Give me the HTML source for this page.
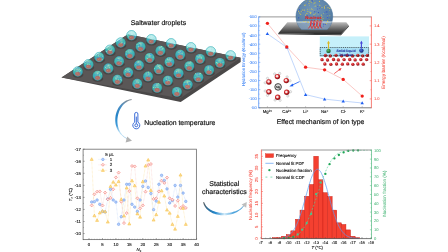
<!DOCTYPE html>
<html><head><meta charset="utf-8"><title>Graphical abstract</title>
<style>html,body{margin:0;padding:0;background:#fff}svg{display:block}</style></head>
<body>
<svg width="448" height="252" viewBox="0 0 448 252" font-family="Liberation Sans, sans-serif" text-rendering="geometricPrecision">
<defs>
<radialGradient id="drop" cx="48%" cy="22%" r="80%"><stop offset="0" stop-color="#a4f4e4"/><stop offset="0.4" stop-color="#3ce2d8"/><stop offset="1" stop-color="#22cad4"/></radialGradient>
<radialGradient id="blob" cx="50%" cy="50%" r="55%"><stop offset="0" stop-color="#b46c64"/><stop offset="0.6" stop-color="#a67070"/><stop offset="1" stop-color="#7a9aa0"/></radialGradient>
<linearGradient id="plate2" x1="0" y1="0" x2="0" y2="1"><stop offset="0" stop-color="#bcbcbc"/><stop offset="0.3" stop-color="#8c8c8c"/><stop offset="0.7" stop-color="#4e4e4e"/><stop offset="1" stop-color="#262626"/></linearGradient>
<radialGradient id="dome" cx="45%" cy="35%" r="70%"><stop offset="0" stop-color="#7096b8"/><stop offset="0.7" stop-color="#5b82a8"/><stop offset="1" stop-color="#486d94"/></radialGradient>
<radialGradient id="redball" cx="40%" cy="35%" r="70%"><stop offset="0" stop-color="#ee6a6a"/><stop offset="0.5" stop-color="#cc2428"/><stop offset="1" stop-color="#7a1015"/></radialGradient>
<radialGradient id="greenball" cx="40%" cy="35%" r="70%"><stop offset="0" stop-color="#5cc06a"/><stop offset="1" stop-color="#0f4a28"/></radialGradient>
<radialGradient id="blueball" cx="40%" cy="35%" r="70%"><stop offset="0" stop-color="#4a78e0"/><stop offset="1" stop-color="#0c1e6a"/></radialGradient>
<linearGradient id="arr1" gradientUnits="userSpaceOnUse" x1="125" y1="99" x2="125" y2="141"><stop offset="0" stop-color="#8f8f8f"/><stop offset="0.16" stop-color="#4a8ec4"/><stop offset="0.4" stop-color="#2484c8"/><stop offset="0.62" stop-color="#3f9ad8"/><stop offset="0.8" stop-color="#bfe2f6"/><stop offset="0.92" stop-color="#9fcdea"/><stop offset="1" stop-color="#b0b0b0"/></linearGradient>
<linearGradient id="arr2" gradientUnits="userSpaceOnUse" x1="203" y1="210" x2="246" y2="210"><stop offset="0" stop-color="#5a5a5a"/><stop offset="0.12" stop-color="#2a6f9f"/><stop offset="0.28" stop-color="#2488cc"/><stop offset="0.5" stop-color="#d4ecfa"/><stop offset="0.72" stop-color="#4aa2dc"/><stop offset="0.9" stop-color="#5aa6d8"/><stop offset="1" stop-color="#b8b8b8"/></linearGradient>
</defs>
<rect width="448" height="252" fill="#fff"/>
<polygon points="61.5,77.4 128,34.2 240.7,57.8 240.7,62 180.7,102.1" fill="#4a4848"/>
<polygon points="61.5,77.4 128,34.2 240.7,57.8 180.2,98.2" fill="#5a5757"/>
<clipPath id="platec"><polygon points="61.5,77.4 128,34.2 240.7,57.8 180.2,98.2"/></clipPath>
<g clip-path="url(#platec)">
<ellipse cx="131.70" cy="38.60" rx="5.4" ry="3.0" fill="#3a3434" opacity="0.55"/><circle cx="131.50" cy="35.40" r="5.1" fill="none" stroke="#4a3e3e" stroke-width="0.6" opacity="0.55"/>
<ellipse cx="151.52" cy="42.62" rx="5.4" ry="3.0" fill="#3a3434" opacity="0.55"/><circle cx="151.32" cy="39.42" r="5.1" fill="none" stroke="#4a3e3e" stroke-width="0.6" opacity="0.55"/>
<ellipse cx="171.34" cy="46.64" rx="5.4" ry="3.0" fill="#3a3434" opacity="0.55"/><circle cx="171.14" cy="43.44" r="5.1" fill="none" stroke="#4a3e3e" stroke-width="0.6" opacity="0.55"/>
<ellipse cx="191.16" cy="50.66" rx="5.4" ry="3.0" fill="#3a3434" opacity="0.55"/><circle cx="190.96" cy="47.46" r="5.1" fill="none" stroke="#4a3e3e" stroke-width="0.6" opacity="0.55"/>
<ellipse cx="210.98" cy="54.68" rx="5.4" ry="3.0" fill="#3a3434" opacity="0.55"/><circle cx="210.78" cy="51.48" r="5.1" fill="none" stroke="#4a3e3e" stroke-width="0.6" opacity="0.55"/>
<ellipse cx="230.80" cy="58.70" rx="5.4" ry="3.0" fill="#3a3434" opacity="0.55"/><circle cx="230.60" cy="55.50" r="5.1" fill="none" stroke="#4a3e3e" stroke-width="0.6" opacity="0.55"/>
<ellipse cx="120.96" cy="45.85" rx="5.4" ry="3.0" fill="#3a3434" opacity="0.55"/><circle cx="120.76" cy="42.65" r="5.1" fill="none" stroke="#4a3e3e" stroke-width="0.6" opacity="0.55"/>
<ellipse cx="140.78" cy="49.87" rx="5.4" ry="3.0" fill="#3a3434" opacity="0.55"/><circle cx="140.58" cy="46.67" r="5.1" fill="none" stroke="#4a3e3e" stroke-width="0.6" opacity="0.55"/>
<ellipse cx="160.60" cy="53.89" rx="5.4" ry="3.0" fill="#3a3434" opacity="0.55"/><circle cx="160.40" cy="50.69" r="5.1" fill="none" stroke="#4a3e3e" stroke-width="0.6" opacity="0.55"/>
<ellipse cx="180.42" cy="57.91" rx="5.4" ry="3.0" fill="#3a3434" opacity="0.55"/><circle cx="180.22" cy="54.71" r="5.1" fill="none" stroke="#4a3e3e" stroke-width="0.6" opacity="0.55"/>
<ellipse cx="200.24" cy="61.93" rx="5.4" ry="3.0" fill="#3a3434" opacity="0.55"/><circle cx="200.04" cy="58.73" r="5.1" fill="none" stroke="#4a3e3e" stroke-width="0.6" opacity="0.55"/>
<ellipse cx="220.06" cy="65.95" rx="5.4" ry="3.0" fill="#3a3434" opacity="0.55"/><circle cx="219.86" cy="62.75" r="5.1" fill="none" stroke="#4a3e3e" stroke-width="0.6" opacity="0.55"/>
<ellipse cx="110.22" cy="53.10" rx="5.4" ry="3.0" fill="#3a3434" opacity="0.55"/><circle cx="110.02" cy="49.90" r="5.1" fill="none" stroke="#4a3e3e" stroke-width="0.6" opacity="0.55"/>
<ellipse cx="130.04" cy="57.12" rx="5.4" ry="3.0" fill="#3a3434" opacity="0.55"/><circle cx="129.84" cy="53.92" r="5.1" fill="none" stroke="#4a3e3e" stroke-width="0.6" opacity="0.55"/>
<ellipse cx="149.86" cy="61.14" rx="5.4" ry="3.0" fill="#3a3434" opacity="0.55"/><circle cx="149.66" cy="57.94" r="5.1" fill="none" stroke="#4a3e3e" stroke-width="0.6" opacity="0.55"/>
<ellipse cx="169.68" cy="65.16" rx="5.4" ry="3.0" fill="#3a3434" opacity="0.55"/><circle cx="169.48" cy="61.96" r="5.1" fill="none" stroke="#4a3e3e" stroke-width="0.6" opacity="0.55"/>
<ellipse cx="189.50" cy="69.18" rx="5.4" ry="3.0" fill="#3a3434" opacity="0.55"/><circle cx="189.30" cy="65.98" r="5.1" fill="none" stroke="#4a3e3e" stroke-width="0.6" opacity="0.55"/>
<ellipse cx="209.32" cy="73.20" rx="5.4" ry="3.0" fill="#3a3434" opacity="0.55"/><circle cx="209.12" cy="70.00" r="5.1" fill="none" stroke="#4a3e3e" stroke-width="0.6" opacity="0.55"/>
<ellipse cx="99.48" cy="60.35" rx="5.4" ry="3.0" fill="#3a3434" opacity="0.55"/><circle cx="99.28" cy="57.15" r="5.1" fill="none" stroke="#4a3e3e" stroke-width="0.6" opacity="0.55"/>
<ellipse cx="119.30" cy="64.37" rx="5.4" ry="3.0" fill="#3a3434" opacity="0.55"/><circle cx="119.10" cy="61.17" r="5.1" fill="none" stroke="#4a3e3e" stroke-width="0.6" opacity="0.55"/>
<ellipse cx="139.12" cy="68.39" rx="5.4" ry="3.0" fill="#3a3434" opacity="0.55"/><circle cx="138.92" cy="65.19" r="5.1" fill="none" stroke="#4a3e3e" stroke-width="0.6" opacity="0.55"/>
<ellipse cx="158.94" cy="72.41" rx="5.4" ry="3.0" fill="#3a3434" opacity="0.55"/><circle cx="158.74" cy="69.21" r="5.1" fill="none" stroke="#4a3e3e" stroke-width="0.6" opacity="0.55"/>
<ellipse cx="178.76" cy="76.43" rx="5.4" ry="3.0" fill="#3a3434" opacity="0.55"/><circle cx="178.56" cy="73.23" r="5.1" fill="none" stroke="#4a3e3e" stroke-width="0.6" opacity="0.55"/>
<ellipse cx="198.58" cy="80.45" rx="5.4" ry="3.0" fill="#3a3434" opacity="0.55"/><circle cx="198.38" cy="77.25" r="5.1" fill="none" stroke="#4a3e3e" stroke-width="0.6" opacity="0.55"/>
<ellipse cx="88.74" cy="67.60" rx="5.4" ry="3.0" fill="#3a3434" opacity="0.55"/><circle cx="88.54" cy="64.40" r="5.1" fill="none" stroke="#4a3e3e" stroke-width="0.6" opacity="0.55"/>
<ellipse cx="108.56" cy="71.62" rx="5.4" ry="3.0" fill="#3a3434" opacity="0.55"/><circle cx="108.36" cy="68.42" r="5.1" fill="none" stroke="#4a3e3e" stroke-width="0.6" opacity="0.55"/>
<ellipse cx="128.38" cy="75.64" rx="5.4" ry="3.0" fill="#3a3434" opacity="0.55"/><circle cx="128.18" cy="72.44" r="5.1" fill="none" stroke="#4a3e3e" stroke-width="0.6" opacity="0.55"/>
<ellipse cx="148.20" cy="79.66" rx="5.4" ry="3.0" fill="#3a3434" opacity="0.55"/><circle cx="148.00" cy="76.46" r="5.1" fill="none" stroke="#4a3e3e" stroke-width="0.6" opacity="0.55"/>
<ellipse cx="168.02" cy="83.68" rx="5.4" ry="3.0" fill="#3a3434" opacity="0.55"/><circle cx="167.82" cy="80.48" r="5.1" fill="none" stroke="#4a3e3e" stroke-width="0.6" opacity="0.55"/>
<ellipse cx="187.84" cy="87.70" rx="5.4" ry="3.0" fill="#3a3434" opacity="0.55"/><circle cx="187.64" cy="84.50" r="5.1" fill="none" stroke="#4a3e3e" stroke-width="0.6" opacity="0.55"/>
<ellipse cx="78.00" cy="74.85" rx="5.4" ry="3.0" fill="#3a3434" opacity="0.55"/><circle cx="77.80" cy="71.65" r="5.1" fill="none" stroke="#4a3e3e" stroke-width="0.6" opacity="0.55"/>
<ellipse cx="97.82" cy="78.87" rx="5.4" ry="3.0" fill="#3a3434" opacity="0.55"/><circle cx="97.62" cy="75.67" r="5.1" fill="none" stroke="#4a3e3e" stroke-width="0.6" opacity="0.55"/>
<ellipse cx="117.64" cy="82.89" rx="5.4" ry="3.0" fill="#3a3434" opacity="0.55"/><circle cx="117.44" cy="79.69" r="5.1" fill="none" stroke="#4a3e3e" stroke-width="0.6" opacity="0.55"/>
<ellipse cx="137.46" cy="86.91" rx="5.4" ry="3.0" fill="#3a3434" opacity="0.55"/><circle cx="137.26" cy="83.71" r="5.1" fill="none" stroke="#4a3e3e" stroke-width="0.6" opacity="0.55"/>
<ellipse cx="157.28" cy="90.93" rx="5.4" ry="3.0" fill="#3a3434" opacity="0.55"/><circle cx="157.08" cy="87.73" r="5.1" fill="none" stroke="#4a3e3e" stroke-width="0.6" opacity="0.55"/>
<ellipse cx="177.10" cy="94.95" rx="5.4" ry="3.0" fill="#3a3434" opacity="0.55"/><circle cx="176.90" cy="91.75" r="5.1" fill="none" stroke="#4a3e3e" stroke-width="0.6" opacity="0.55"/>
</g>
<g transform="translate(131.50 35.40)"><circle r="4.85" fill="url(#drop)" fill-opacity="0.72" stroke="#2f9aa4" stroke-width="0.4" stroke-opacity="0.7"/><ellipse cx="0" cy="2.2" rx="3.0" ry="2.3" fill="url(#blob)"/><circle cx="2.0" cy="-3.4" r="0.55" fill="#b6eec0" opacity="0.75"/><circle cx="4.1" cy="0.4" r="0.55" fill="#b6eec0" opacity="0.75"/><circle cx="-3.0" cy="1.3" r="0.55" fill="#a8e6b0" opacity="0.75"/><circle cx="2.1" cy="-1.0" r="0.55" fill="#3c90dc" opacity="0.75"/><circle cx="-1.9" cy="-0.7" r="0.55" fill="#3c90dc" opacity="0.75"/><circle cx="-1.3" cy="-1.8" r="0.55" fill="#4a9ae0" opacity="0.75"/><circle cx="3.7" cy="-1.0" r="0.55" fill="#3c90dc" opacity="0.75"/><circle cx="2.6" cy="-2.4" r="0.55" fill="#b6eec0" opacity="0.75"/><circle cx="-2.0" cy="-1.4" r="0.55" fill="#a8e6b0" opacity="0.75"/><circle cx="-3.1" cy="-3.0" r="0.55" fill="#4a9ae0" opacity="0.75"/><circle cx="-3.8" cy="-0.1" r="0.55" fill="#a8e6b0" opacity="0.75"/><circle cx="3.7" cy="0.9" r="0.55" fill="#3c90dc" opacity="0.75"/><circle cx="3.1" cy="1.4" r="0.55" fill="#3c90dc" opacity="0.75"/><circle cx="-2.8" cy="-2.9" r="0.55" fill="#a8e6b0" opacity="0.75"/><circle cx="-0.8" cy="2.0" r="0.5" fill="#d89a58" opacity="0.7"/><circle cx="0.9" cy="2.7" r="0.45" fill="#d49060" opacity="0.65"/><circle cx="0.2" cy="1.5" r="0.4" fill="#d0a868" opacity="0.55"/></g>
<g transform="translate(151.32 39.42)"><circle r="4.85" fill="url(#drop)" fill-opacity="0.72" stroke="#2f9aa4" stroke-width="0.4" stroke-opacity="0.7"/><ellipse cx="0" cy="2.2" rx="3.0" ry="2.3" fill="url(#blob)"/><circle cx="2.5" cy="2.1" r="0.55" fill="#3c90dc" opacity="0.75"/><circle cx="-3.0" cy="0.3" r="0.55" fill="#3c90dc" opacity="0.75"/><circle cx="0.9" cy="-0.0" r="0.55" fill="#b6eec0" opacity="0.75"/><circle cx="-3.2" cy="0.8" r="0.55" fill="#3c90dc" opacity="0.75"/><circle cx="-0.6" cy="-2.3" r="0.55" fill="#3c90dc" opacity="0.75"/><circle cx="-1.1" cy="-1.3" r="0.55" fill="#a8e6b0" opacity="0.75"/><circle cx="1.1" cy="-0.4" r="0.55" fill="#4a9ae0" opacity="0.75"/><circle cx="3.9" cy="-0.4" r="0.55" fill="#3c90dc" opacity="0.75"/><circle cx="3.3" cy="-1.2" r="0.55" fill="#4a9ae0" opacity="0.75"/><circle cx="-1.8" cy="-0.6" r="0.55" fill="#3c90dc" opacity="0.75"/><circle cx="-1.6" cy="-3.6" r="0.55" fill="#a8e6b0" opacity="0.75"/><circle cx="2.1" cy="-1.6" r="0.55" fill="#4a9ae0" opacity="0.75"/><circle cx="1.2" cy="-1.2" r="0.55" fill="#a8e6b0" opacity="0.75"/><circle cx="-0.8" cy="2.0" r="0.5" fill="#d89a58" opacity="0.7"/><circle cx="0.9" cy="2.7" r="0.45" fill="#d49060" opacity="0.65"/><circle cx="0.2" cy="1.5" r="0.4" fill="#d0a868" opacity="0.55"/></g>
<g transform="translate(171.14 43.44)"><circle r="4.85" fill="url(#drop)" fill-opacity="0.72" stroke="#2f9aa4" stroke-width="0.4" stroke-opacity="0.7"/><ellipse cx="0" cy="2.2" rx="3.0" ry="2.3" fill="url(#blob)"/><circle cx="4.0" cy="-1.7" r="0.55" fill="#3c90dc" opacity="0.75"/><circle cx="1.8" cy="0.5" r="0.55" fill="#3c90dc" opacity="0.75"/><circle cx="-0.3" cy="-3.6" r="0.55" fill="#a8e6b0" opacity="0.75"/><circle cx="3.2" cy="0.1" r="0.55" fill="#b6eec0" opacity="0.75"/><circle cx="-2.4" cy="-3.3" r="0.55" fill="#4a9ae0" opacity="0.75"/><circle cx="2.7" cy="-1.4" r="0.55" fill="#b6eec0" opacity="0.75"/><circle cx="-4.0" cy="-0.6" r="0.55" fill="#3c90dc" opacity="0.75"/><circle cx="-2.7" cy="2.3" r="0.55" fill="#b6eec0" opacity="0.75"/><circle cx="-3.5" cy="1.1" r="0.55" fill="#3c90dc" opacity="0.75"/><circle cx="-1.7" cy="-1.2" r="0.55" fill="#3c90dc" opacity="0.75"/><circle cx="-2.2" cy="-0.7" r="0.55" fill="#4a9ae0" opacity="0.75"/><circle cx="-0.7" cy="-2.0" r="0.55" fill="#b6eec0" opacity="0.75"/><circle cx="1.0" cy="-3.7" r="0.55" fill="#a8e6b0" opacity="0.75"/><circle cx="0.5" cy="-2.6" r="0.55" fill="#b6eec0" opacity="0.75"/><circle cx="-0.8" cy="2.0" r="0.5" fill="#d89a58" opacity="0.7"/><circle cx="0.9" cy="2.7" r="0.45" fill="#d49060" opacity="0.65"/><circle cx="0.2" cy="1.5" r="0.4" fill="#d0a868" opacity="0.55"/></g>
<g transform="translate(190.96 47.46)"><circle r="4.85" fill="url(#drop)" fill-opacity="0.72" stroke="#2f9aa4" stroke-width="0.4" stroke-opacity="0.7"/><ellipse cx="0" cy="2.2" rx="3.0" ry="2.3" fill="url(#blob)"/><circle cx="-0.9" cy="-1.4" r="0.55" fill="#3c90dc" opacity="0.75"/><circle cx="2.1" cy="-1.9" r="0.55" fill="#4a9ae0" opacity="0.75"/><circle cx="-3.7" cy="0.1" r="0.55" fill="#b6eec0" opacity="0.75"/><circle cx="-3.1" cy="1.6" r="0.55" fill="#3c90dc" opacity="0.75"/><circle cx="-2.6" cy="-3.4" r="0.55" fill="#4a9ae0" opacity="0.75"/><circle cx="-0.8" cy="0.0" r="0.55" fill="#3c90dc" opacity="0.75"/><circle cx="3.4" cy="0.3" r="0.55" fill="#a8e6b0" opacity="0.75"/><circle cx="-3.3" cy="-0.1" r="0.55" fill="#b6eec0" opacity="0.75"/><circle cx="-0.9" cy="-4.3" r="0.55" fill="#b6eec0" opacity="0.75"/><circle cx="-0.4" cy="-3.3" r="0.55" fill="#3c90dc" opacity="0.75"/><circle cx="1.0" cy="-1.5" r="0.55" fill="#3c90dc" opacity="0.75"/><circle cx="-1.9" cy="-0.5" r="0.55" fill="#b6eec0" opacity="0.75"/><circle cx="-0.8" cy="2.0" r="0.5" fill="#d89a58" opacity="0.7"/><circle cx="0.9" cy="2.7" r="0.45" fill="#d49060" opacity="0.65"/><circle cx="0.2" cy="1.5" r="0.4" fill="#d0a868" opacity="0.55"/></g>
<g transform="translate(210.78 51.48)"><circle r="4.85" fill="url(#drop)" fill-opacity="0.72" stroke="#2f9aa4" stroke-width="0.4" stroke-opacity="0.7"/><ellipse cx="0" cy="2.2" rx="3.0" ry="2.3" fill="url(#blob)"/><circle cx="-1.2" cy="0.3" r="0.55" fill="#3c90dc" opacity="0.75"/><circle cx="2.8" cy="-0.3" r="0.55" fill="#a8e6b0" opacity="0.75"/><circle cx="1.1" cy="-3.8" r="0.55" fill="#3c90dc" opacity="0.75"/><circle cx="-2.2" cy="-0.9" r="0.55" fill="#3c90dc" opacity="0.75"/><circle cx="0.9" cy="-2.2" r="0.55" fill="#3c90dc" opacity="0.75"/><circle cx="1.7" cy="-3.7" r="0.55" fill="#a8e6b0" opacity="0.75"/><circle cx="-2.4" cy="-2.9" r="0.55" fill="#a8e6b0" opacity="0.75"/><circle cx="2.6" cy="0.9" r="0.55" fill="#b6eec0" opacity="0.75"/><circle cx="-1.6" cy="-0.7" r="0.55" fill="#b6eec0" opacity="0.75"/><circle cx="1.7" cy="-4.2" r="0.55" fill="#a8e6b0" opacity="0.75"/><circle cx="2.0" cy="-0.5" r="0.55" fill="#a8e6b0" opacity="0.75"/><circle cx="1.5" cy="-2.7" r="0.55" fill="#b6eec0" opacity="0.75"/><circle cx="-1.7" cy="0.3" r="0.55" fill="#b6eec0" opacity="0.75"/><circle cx="-0.8" cy="2.0" r="0.5" fill="#d89a58" opacity="0.7"/><circle cx="0.9" cy="2.7" r="0.45" fill="#d49060" opacity="0.65"/><circle cx="0.2" cy="1.5" r="0.4" fill="#d0a868" opacity="0.55"/></g>
<g transform="translate(230.60 55.50)"><circle r="4.85" fill="url(#drop)" fill-opacity="0.72" stroke="#2f9aa4" stroke-width="0.4" stroke-opacity="0.7"/><ellipse cx="0" cy="2.2" rx="3.0" ry="2.3" fill="url(#blob)"/><circle cx="-2.5" cy="-2.9" r="0.55" fill="#4a9ae0" opacity="0.75"/><circle cx="2.5" cy="-0.2" r="0.55" fill="#3c90dc" opacity="0.75"/><circle cx="-2.4" cy="-3.6" r="0.55" fill="#3c90dc" opacity="0.75"/><circle cx="-2.7" cy="2.0" r="0.55" fill="#b6eec0" opacity="0.75"/><circle cx="-2.8" cy="-1.3" r="0.55" fill="#3c90dc" opacity="0.75"/><circle cx="-0.3" cy="-2.8" r="0.55" fill="#3c90dc" opacity="0.75"/><circle cx="3.1" cy="-2.3" r="0.55" fill="#3c90dc" opacity="0.75"/><circle cx="0.1" cy="-1.8" r="0.55" fill="#4a9ae0" opacity="0.75"/><circle cx="-1.0" cy="-1.5" r="0.55" fill="#3c90dc" opacity="0.75"/><circle cx="1.0" cy="-0.8" r="0.55" fill="#3c90dc" opacity="0.75"/><circle cx="1.5" cy="-1.0" r="0.55" fill="#3c90dc" opacity="0.75"/><circle cx="-3.1" cy="-1.3" r="0.55" fill="#3c90dc" opacity="0.75"/><circle cx="-0.8" cy="0.1" r="0.55" fill="#b6eec0" opacity="0.75"/><circle cx="-0.8" cy="2.0" r="0.5" fill="#d89a58" opacity="0.7"/><circle cx="0.9" cy="2.7" r="0.45" fill="#d49060" opacity="0.65"/><circle cx="0.2" cy="1.5" r="0.4" fill="#d0a868" opacity="0.55"/></g>
<g transform="translate(120.76 42.65)"><circle r="4.85" fill="url(#drop)" fill-opacity="0.72" stroke="#2f9aa4" stroke-width="0.4" stroke-opacity="0.7"/><ellipse cx="0" cy="2.2" rx="3.0" ry="2.3" fill="url(#blob)"/><circle cx="-0.7" cy="-1.6" r="0.55" fill="#4a9ae0" opacity="0.75"/><circle cx="2.4" cy="0.9" r="0.55" fill="#4a9ae0" opacity="0.75"/><circle cx="0.3" cy="0.6" r="0.55" fill="#b6eec0" opacity="0.75"/><circle cx="1.2" cy="-0.1" r="0.55" fill="#b6eec0" opacity="0.75"/><circle cx="2.7" cy="0.4" r="0.55" fill="#3c90dc" opacity="0.75"/><circle cx="-2.0" cy="-2.6" r="0.55" fill="#3c90dc" opacity="0.75"/><circle cx="-2.0" cy="-1.6" r="0.55" fill="#3c90dc" opacity="0.75"/><circle cx="3.7" cy="0.5" r="0.55" fill="#a8e6b0" opacity="0.75"/><circle cx="-2.4" cy="0.7" r="0.55" fill="#4a9ae0" opacity="0.75"/><circle cx="-1.4" cy="-2.2" r="0.55" fill="#4a9ae0" opacity="0.75"/><circle cx="-0.7" cy="-3.2" r="0.55" fill="#4a9ae0" opacity="0.75"/><circle cx="-1.8" cy="0.3" r="0.55" fill="#4a9ae0" opacity="0.75"/><circle cx="-0.8" cy="2.0" r="0.5" fill="#d89a58" opacity="0.7"/><circle cx="0.9" cy="2.7" r="0.45" fill="#d49060" opacity="0.65"/><circle cx="0.2" cy="1.5" r="0.4" fill="#d0a868" opacity="0.55"/></g>
<g transform="translate(140.58 46.67)"><circle r="4.85" fill="url(#drop)" fill-opacity="0.72" stroke="#2f9aa4" stroke-width="0.4" stroke-opacity="0.7"/><ellipse cx="0" cy="2.2" rx="3.0" ry="2.3" fill="url(#blob)"/><circle cx="1.6" cy="0.3" r="0.55" fill="#4a9ae0" opacity="0.75"/><circle cx="-2.4" cy="0.0" r="0.55" fill="#b6eec0" opacity="0.75"/><circle cx="-3.6" cy="-2.3" r="0.55" fill="#b6eec0" opacity="0.75"/><circle cx="1.5" cy="0.3" r="0.55" fill="#3c90dc" opacity="0.75"/><circle cx="-0.8" cy="-3.1" r="0.55" fill="#b6eec0" opacity="0.75"/><circle cx="1.8" cy="-1.8" r="0.55" fill="#3c90dc" opacity="0.75"/><circle cx="-0.7" cy="-1.7" r="0.55" fill="#3c90dc" opacity="0.75"/><circle cx="-2.8" cy="1.7" r="0.55" fill="#3c90dc" opacity="0.75"/><circle cx="-1.1" cy="-2.3" r="0.55" fill="#3c90dc" opacity="0.75"/><circle cx="-3.1" cy="-0.6" r="0.55" fill="#3c90dc" opacity="0.75"/><circle cx="-1.3" cy="-1.3" r="0.55" fill="#3c90dc" opacity="0.75"/><circle cx="-1.1" cy="-0.9" r="0.55" fill="#3c90dc" opacity="0.75"/><circle cx="-0.8" cy="2.0" r="0.5" fill="#d89a58" opacity="0.7"/><circle cx="0.9" cy="2.7" r="0.45" fill="#d49060" opacity="0.65"/><circle cx="0.2" cy="1.5" r="0.4" fill="#d0a868" opacity="0.55"/></g>
<g transform="translate(160.40 50.69)"><circle r="4.85" fill="url(#drop)" fill-opacity="0.72" stroke="#2f9aa4" stroke-width="0.4" stroke-opacity="0.7"/><ellipse cx="0" cy="2.2" rx="3.0" ry="2.3" fill="url(#blob)"/><circle cx="-2.2" cy="-0.1" r="0.55" fill="#3c90dc" opacity="0.75"/><circle cx="-1.7" cy="-1.8" r="0.55" fill="#4a9ae0" opacity="0.75"/><circle cx="-1.1" cy="-3.7" r="0.55" fill="#3c90dc" opacity="0.75"/><circle cx="-0.7" cy="-2.9" r="0.55" fill="#b6eec0" opacity="0.75"/><circle cx="2.6" cy="-1.9" r="0.55" fill="#b6eec0" opacity="0.75"/><circle cx="1.0" cy="-4.2" r="0.55" fill="#a8e6b0" opacity="0.75"/><circle cx="1.0" cy="-4.2" r="0.55" fill="#a8e6b0" opacity="0.75"/><circle cx="2.0" cy="-1.8" r="0.55" fill="#a8e6b0" opacity="0.75"/><circle cx="0.6" cy="-2.1" r="0.55" fill="#3c90dc" opacity="0.75"/><circle cx="0.9" cy="-1.4" r="0.55" fill="#b6eec0" opacity="0.75"/><circle cx="0.8" cy="-1.7" r="0.55" fill="#3c90dc" opacity="0.75"/><circle cx="-0.8" cy="2.0" r="0.5" fill="#d89a58" opacity="0.7"/><circle cx="0.9" cy="2.7" r="0.45" fill="#d49060" opacity="0.65"/><circle cx="0.2" cy="1.5" r="0.4" fill="#d0a868" opacity="0.55"/></g>
<g transform="translate(180.22 54.71)"><circle r="4.85" fill="url(#drop)" fill-opacity="0.72" stroke="#2f9aa4" stroke-width="0.4" stroke-opacity="0.7"/><ellipse cx="0" cy="2.2" rx="3.0" ry="2.3" fill="url(#blob)"/><circle cx="-2.2" cy="-1.6" r="0.55" fill="#4a9ae0" opacity="0.75"/><circle cx="2.5" cy="-0.4" r="0.55" fill="#b6eec0" opacity="0.75"/><circle cx="1.4" cy="-3.3" r="0.55" fill="#3c90dc" opacity="0.75"/><circle cx="2.6" cy="-0.1" r="0.55" fill="#3c90dc" opacity="0.75"/><circle cx="1.1" cy="-0.6" r="0.55" fill="#3c90dc" opacity="0.75"/><circle cx="-1.8" cy="-1.9" r="0.55" fill="#a8e6b0" opacity="0.75"/><circle cx="0.9" cy="-2.2" r="0.55" fill="#3c90dc" opacity="0.75"/><circle cx="-1.2" cy="-3.4" r="0.55" fill="#3c90dc" opacity="0.75"/><circle cx="-3.7" cy="0.4" r="0.55" fill="#3c90dc" opacity="0.75"/><circle cx="3.0" cy="-1.1" r="0.55" fill="#3c90dc" opacity="0.75"/><circle cx="-1.5" cy="-1.4" r="0.55" fill="#3c90dc" opacity="0.75"/><circle cx="1.9" cy="-1.3" r="0.55" fill="#a8e6b0" opacity="0.75"/><circle cx="0.2" cy="-2.3" r="0.55" fill="#4a9ae0" opacity="0.75"/><circle cx="-2.4" cy="0.1" r="0.55" fill="#4a9ae0" opacity="0.75"/><circle cx="-0.8" cy="2.0" r="0.5" fill="#d89a58" opacity="0.7"/><circle cx="0.9" cy="2.7" r="0.45" fill="#d49060" opacity="0.65"/><circle cx="0.2" cy="1.5" r="0.4" fill="#d0a868" opacity="0.55"/></g>
<g transform="translate(200.04 58.73)"><circle r="4.85" fill="url(#drop)" fill-opacity="0.72" stroke="#2f9aa4" stroke-width="0.4" stroke-opacity="0.7"/><ellipse cx="0" cy="2.2" rx="3.0" ry="2.3" fill="url(#blob)"/><circle cx="-2.7" cy="0.2" r="0.55" fill="#b6eec0" opacity="0.75"/><circle cx="-3.6" cy="0.5" r="0.55" fill="#3c90dc" opacity="0.75"/><circle cx="-2.5" cy="-3.1" r="0.55" fill="#3c90dc" opacity="0.75"/><circle cx="-1.4" cy="-0.1" r="0.55" fill="#4a9ae0" opacity="0.75"/><circle cx="1.2" cy="-3.5" r="0.55" fill="#3c90dc" opacity="0.75"/><circle cx="-1.9" cy="-1.8" r="0.55" fill="#b6eec0" opacity="0.75"/><circle cx="-1.7" cy="-3.0" r="0.55" fill="#3c90dc" opacity="0.75"/><circle cx="-2.7" cy="-3.1" r="0.55" fill="#3c90dc" opacity="0.75"/><circle cx="1.5" cy="-0.0" r="0.55" fill="#3c90dc" opacity="0.75"/><circle cx="-2.9" cy="-2.6" r="0.55" fill="#a8e6b0" opacity="0.75"/><circle cx="-3.5" cy="0.7" r="0.55" fill="#4a9ae0" opacity="0.75"/><circle cx="1.3" cy="-0.6" r="0.55" fill="#a8e6b0" opacity="0.75"/><circle cx="1.2" cy="-1.1" r="0.55" fill="#a8e6b0" opacity="0.75"/><circle cx="-0.8" cy="2.0" r="0.5" fill="#d89a58" opacity="0.7"/><circle cx="0.9" cy="2.7" r="0.45" fill="#d49060" opacity="0.65"/><circle cx="0.2" cy="1.5" r="0.4" fill="#d0a868" opacity="0.55"/></g>
<g transform="translate(219.86 62.75)"><circle r="4.85" fill="url(#drop)" fill-opacity="0.72" stroke="#2f9aa4" stroke-width="0.4" stroke-opacity="0.7"/><ellipse cx="0" cy="2.2" rx="3.0" ry="2.3" fill="url(#blob)"/><circle cx="-3.1" cy="-0.1" r="0.55" fill="#a8e6b0" opacity="0.75"/><circle cx="0.6" cy="0.2" r="0.55" fill="#a8e6b0" opacity="0.75"/><circle cx="-3.1" cy="-0.3" r="0.55" fill="#b6eec0" opacity="0.75"/><circle cx="-1.1" cy="-3.2" r="0.55" fill="#4a9ae0" opacity="0.75"/><circle cx="3.1" cy="-0.6" r="0.55" fill="#b6eec0" opacity="0.75"/><circle cx="1.4" cy="-3.4" r="0.55" fill="#3c90dc" opacity="0.75"/><circle cx="1.2" cy="-0.5" r="0.55" fill="#4a9ae0" opacity="0.75"/><circle cx="-2.2" cy="0.5" r="0.55" fill="#b6eec0" opacity="0.75"/><circle cx="2.7" cy="-1.1" r="0.55" fill="#4a9ae0" opacity="0.75"/><circle cx="-3.9" cy="-2.0" r="0.55" fill="#3c90dc" opacity="0.75"/><circle cx="-2.5" cy="-1.5" r="0.55" fill="#3c90dc" opacity="0.75"/><circle cx="-0.8" cy="2.0" r="0.5" fill="#d89a58" opacity="0.7"/><circle cx="0.9" cy="2.7" r="0.45" fill="#d49060" opacity="0.65"/><circle cx="0.2" cy="1.5" r="0.4" fill="#d0a868" opacity="0.55"/></g>
<g transform="translate(110.02 49.90)"><circle r="4.85" fill="url(#drop)" fill-opacity="0.72" stroke="#2f9aa4" stroke-width="0.4" stroke-opacity="0.7"/><ellipse cx="0" cy="2.2" rx="3.0" ry="2.3" fill="url(#blob)"/><circle cx="2.6" cy="1.4" r="0.55" fill="#4a9ae0" opacity="0.75"/><circle cx="1.8" cy="-1.3" r="0.55" fill="#a8e6b0" opacity="0.75"/><circle cx="-0.3" cy="0.5" r="0.55" fill="#b6eec0" opacity="0.75"/><circle cx="-2.8" cy="1.4" r="0.55" fill="#3c90dc" opacity="0.75"/><circle cx="-1.5" cy="-0.7" r="0.55" fill="#a8e6b0" opacity="0.75"/><circle cx="1.5" cy="0.2" r="0.55" fill="#b6eec0" opacity="0.75"/><circle cx="-3.5" cy="1.7" r="0.55" fill="#b6eec0" opacity="0.75"/><circle cx="1.0" cy="-1.4" r="0.55" fill="#3c90dc" opacity="0.75"/><circle cx="-2.7" cy="-2.0" r="0.55" fill="#a8e6b0" opacity="0.75"/><circle cx="0.5" cy="0.5" r="0.55" fill="#b6eec0" opacity="0.75"/><circle cx="-0.8" cy="2.0" r="0.5" fill="#d89a58" opacity="0.7"/><circle cx="0.9" cy="2.7" r="0.45" fill="#d49060" opacity="0.65"/><circle cx="0.2" cy="1.5" r="0.4" fill="#d0a868" opacity="0.55"/></g>
<g transform="translate(129.84 53.92)"><circle r="4.85" fill="url(#drop)" fill-opacity="0.72" stroke="#2f9aa4" stroke-width="0.4" stroke-opacity="0.7"/><ellipse cx="0" cy="2.2" rx="3.0" ry="2.3" fill="url(#blob)"/><circle cx="1.0" cy="-0.8" r="0.55" fill="#3c90dc" opacity="0.75"/><circle cx="3.9" cy="-0.2" r="0.55" fill="#3c90dc" opacity="0.75"/><circle cx="2.7" cy="-3.8" r="0.55" fill="#3c90dc" opacity="0.75"/><circle cx="-0.3" cy="-2.8" r="0.55" fill="#4a9ae0" opacity="0.75"/><circle cx="-2.3" cy="0.0" r="0.55" fill="#3c90dc" opacity="0.75"/><circle cx="-3.5" cy="0.2" r="0.55" fill="#b6eec0" opacity="0.75"/><circle cx="-3.7" cy="-2.2" r="0.55" fill="#b6eec0" opacity="0.75"/><circle cx="-3.2" cy="1.5" r="0.55" fill="#3c90dc" opacity="0.75"/><circle cx="-4.1" cy="-0.4" r="0.55" fill="#3c90dc" opacity="0.75"/><circle cx="-0.8" cy="2.0" r="0.5" fill="#d89a58" opacity="0.7"/><circle cx="0.9" cy="2.7" r="0.45" fill="#d49060" opacity="0.65"/><circle cx="0.2" cy="1.5" r="0.4" fill="#d0a868" opacity="0.55"/></g>
<g transform="translate(149.66 57.94)"><circle r="4.85" fill="url(#drop)" fill-opacity="0.72" stroke="#2f9aa4" stroke-width="0.4" stroke-opacity="0.7"/><ellipse cx="0" cy="2.2" rx="3.0" ry="2.3" fill="url(#blob)"/><circle cx="-2.1" cy="0.6" r="0.55" fill="#b6eec0" opacity="0.75"/><circle cx="2.0" cy="-3.1" r="0.55" fill="#3c90dc" opacity="0.75"/><circle cx="-0.7" cy="-1.3" r="0.55" fill="#a8e6b0" opacity="0.75"/><circle cx="1.3" cy="-3.4" r="0.55" fill="#4a9ae0" opacity="0.75"/><circle cx="1.8" cy="-1.1" r="0.55" fill="#3c90dc" opacity="0.75"/><circle cx="1.1" cy="-3.4" r="0.55" fill="#3c90dc" opacity="0.75"/><circle cx="-2.9" cy="0.0" r="0.55" fill="#a8e6b0" opacity="0.75"/><circle cx="3.6" cy="-0.9" r="0.55" fill="#a8e6b0" opacity="0.75"/><circle cx="-2.6" cy="-3.7" r="0.55" fill="#a8e6b0" opacity="0.75"/><circle cx="-1.7" cy="-1.5" r="0.55" fill="#3c90dc" opacity="0.75"/><circle cx="1.8" cy="-3.6" r="0.55" fill="#4a9ae0" opacity="0.75"/><circle cx="-0.8" cy="2.0" r="0.5" fill="#d89a58" opacity="0.7"/><circle cx="0.9" cy="2.7" r="0.45" fill="#d49060" opacity="0.65"/><circle cx="0.2" cy="1.5" r="0.4" fill="#d0a868" opacity="0.55"/></g>
<g transform="translate(169.48 61.96)"><circle r="4.85" fill="url(#drop)" fill-opacity="0.72" stroke="#2f9aa4" stroke-width="0.4" stroke-opacity="0.7"/><ellipse cx="0" cy="2.2" rx="3.0" ry="2.3" fill="url(#blob)"/><circle cx="-3.6" cy="-1.1" r="0.55" fill="#a8e6b0" opacity="0.75"/><circle cx="-0.9" cy="-3.5" r="0.55" fill="#3c90dc" opacity="0.75"/><circle cx="1.6" cy="-1.5" r="0.55" fill="#b6eec0" opacity="0.75"/><circle cx="2.2" cy="-1.3" r="0.55" fill="#4a9ae0" opacity="0.75"/><circle cx="3.4" cy="0.7" r="0.55" fill="#3c90dc" opacity="0.75"/><circle cx="-3.9" cy="-2.0" r="0.55" fill="#3c90dc" opacity="0.75"/><circle cx="-0.7" cy="0.6" r="0.55" fill="#3c90dc" opacity="0.75"/><circle cx="-0.5" cy="0.5" r="0.55" fill="#b6eec0" opacity="0.75"/><circle cx="-1.9" cy="-2.8" r="0.55" fill="#b6eec0" opacity="0.75"/><circle cx="1.6" cy="-4.1" r="0.55" fill="#3c90dc" opacity="0.75"/><circle cx="-2.6" cy="0.5" r="0.55" fill="#a8e6b0" opacity="0.75"/><circle cx="2.4" cy="0.2" r="0.55" fill="#4a9ae0" opacity="0.75"/><circle cx="-0.8" cy="2.0" r="0.5" fill="#d89a58" opacity="0.7"/><circle cx="0.9" cy="2.7" r="0.45" fill="#d49060" opacity="0.65"/><circle cx="0.2" cy="1.5" r="0.4" fill="#d0a868" opacity="0.55"/></g>
<g transform="translate(189.30 65.98)"><circle r="4.85" fill="url(#drop)" fill-opacity="0.72" stroke="#2f9aa4" stroke-width="0.4" stroke-opacity="0.7"/><ellipse cx="0" cy="2.2" rx="3.0" ry="2.3" fill="url(#blob)"/><circle cx="-2.6" cy="-0.4" r="0.55" fill="#b6eec0" opacity="0.75"/><circle cx="0.1" cy="-2.1" r="0.55" fill="#3c90dc" opacity="0.75"/><circle cx="1.5" cy="-4.1" r="0.55" fill="#b6eec0" opacity="0.75"/><circle cx="4.2" cy="-0.4" r="0.55" fill="#3c90dc" opacity="0.75"/><circle cx="0.3" cy="-2.8" r="0.55" fill="#a8e6b0" opacity="0.75"/><circle cx="-2.3" cy="-2.0" r="0.55" fill="#a8e6b0" opacity="0.75"/><circle cx="-1.6" cy="-1.7" r="0.55" fill="#3c90dc" opacity="0.75"/><circle cx="-0.8" cy="2.0" r="0.5" fill="#d89a58" opacity="0.7"/><circle cx="0.9" cy="2.7" r="0.45" fill="#d49060" opacity="0.65"/><circle cx="0.2" cy="1.5" r="0.4" fill="#d0a868" opacity="0.55"/></g>
<g transform="translate(209.12 70.00)"><circle r="4.85" fill="url(#drop)" fill-opacity="0.72" stroke="#2f9aa4" stroke-width="0.4" stroke-opacity="0.7"/><ellipse cx="0" cy="2.2" rx="3.0" ry="2.3" fill="url(#blob)"/><circle cx="-1.6" cy="-3.7" r="0.55" fill="#4a9ae0" opacity="0.75"/><circle cx="1.2" cy="0.5" r="0.55" fill="#a8e6b0" opacity="0.75"/><circle cx="2.0" cy="-0.6" r="0.55" fill="#3c90dc" opacity="0.75"/><circle cx="-1.1" cy="-1.3" r="0.55" fill="#b6eec0" opacity="0.75"/><circle cx="0.4" cy="0.5" r="0.55" fill="#3c90dc" opacity="0.75"/><circle cx="0.8" cy="-1.5" r="0.55" fill="#3c90dc" opacity="0.75"/><circle cx="-1.1" cy="0.0" r="0.55" fill="#b6eec0" opacity="0.75"/><circle cx="0.1" cy="-2.8" r="0.55" fill="#a8e6b0" opacity="0.75"/><circle cx="-2.4" cy="-1.7" r="0.55" fill="#3c90dc" opacity="0.75"/><circle cx="1.1" cy="-4.4" r="0.55" fill="#3c90dc" opacity="0.75"/><circle cx="0.4" cy="-3.3" r="0.55" fill="#3c90dc" opacity="0.75"/><circle cx="0.7" cy="-2.7" r="0.55" fill="#3c90dc" opacity="0.75"/><circle cx="-0.8" cy="2.0" r="0.5" fill="#d89a58" opacity="0.7"/><circle cx="0.9" cy="2.7" r="0.45" fill="#d49060" opacity="0.65"/><circle cx="0.2" cy="1.5" r="0.4" fill="#d0a868" opacity="0.55"/></g>
<g transform="translate(99.28 57.15)"><circle r="4.85" fill="url(#drop)" fill-opacity="0.72" stroke="#2f9aa4" stroke-width="0.4" stroke-opacity="0.7"/><ellipse cx="0" cy="2.2" rx="3.0" ry="2.3" fill="url(#blob)"/><circle cx="-1.7" cy="-2.4" r="0.55" fill="#3c90dc" opacity="0.75"/><circle cx="2.6" cy="-0.8" r="0.55" fill="#4a9ae0" opacity="0.75"/><circle cx="0.2" cy="-1.6" r="0.55" fill="#4a9ae0" opacity="0.75"/><circle cx="-1.3" cy="0.0" r="0.55" fill="#3c90dc" opacity="0.75"/><circle cx="2.9" cy="-2.1" r="0.55" fill="#b6eec0" opacity="0.75"/><circle cx="3.4" cy="-0.7" r="0.55" fill="#b6eec0" opacity="0.75"/><circle cx="-0.8" cy="-1.3" r="0.55" fill="#a8e6b0" opacity="0.75"/><circle cx="-3.2" cy="-1.4" r="0.55" fill="#a8e6b0" opacity="0.75"/><circle cx="3.4" cy="-0.1" r="0.55" fill="#3c90dc" opacity="0.75"/><circle cx="2.9" cy="2.1" r="0.55" fill="#b6eec0" opacity="0.75"/><circle cx="-1.2" cy="0.2" r="0.55" fill="#3c90dc" opacity="0.75"/><circle cx="-3.6" cy="0.1" r="0.55" fill="#3c90dc" opacity="0.75"/><circle cx="0.3" cy="-2.2" r="0.55" fill="#4a9ae0" opacity="0.75"/><circle cx="-0.8" cy="2.0" r="0.5" fill="#d89a58" opacity="0.7"/><circle cx="0.9" cy="2.7" r="0.45" fill="#d49060" opacity="0.65"/><circle cx="0.2" cy="1.5" r="0.4" fill="#d0a868" opacity="0.55"/></g>
<g transform="translate(119.10 61.17)"><circle r="4.85" fill="url(#drop)" fill-opacity="0.72" stroke="#2f9aa4" stroke-width="0.4" stroke-opacity="0.7"/><ellipse cx="0" cy="2.2" rx="3.0" ry="2.3" fill="url(#blob)"/><circle cx="1.4" cy="-1.0" r="0.55" fill="#3c90dc" opacity="0.75"/><circle cx="-1.9" cy="-2.1" r="0.55" fill="#3c90dc" opacity="0.75"/><circle cx="-0.3" cy="-4.3" r="0.55" fill="#3c90dc" opacity="0.75"/><circle cx="3.0" cy="-1.9" r="0.55" fill="#b6eec0" opacity="0.75"/><circle cx="-0.3" cy="-1.7" r="0.55" fill="#3c90dc" opacity="0.75"/><circle cx="-1.7" cy="-1.6" r="0.55" fill="#3c90dc" opacity="0.75"/><circle cx="0.6" cy="0.6" r="0.55" fill="#4a9ae0" opacity="0.75"/><circle cx="3.3" cy="-1.9" r="0.55" fill="#4a9ae0" opacity="0.75"/><circle cx="1.9" cy="0.1" r="0.55" fill="#a8e6b0" opacity="0.75"/><circle cx="3.0" cy="-1.4" r="0.55" fill="#3c90dc" opacity="0.75"/><circle cx="-0.9" cy="-2.8" r="0.55" fill="#a8e6b0" opacity="0.75"/><circle cx="-0.8" cy="2.0" r="0.5" fill="#d89a58" opacity="0.7"/><circle cx="0.9" cy="2.7" r="0.45" fill="#d49060" opacity="0.65"/><circle cx="0.2" cy="1.5" r="0.4" fill="#d0a868" opacity="0.55"/></g>
<g transform="translate(138.92 65.19)"><circle r="4.85" fill="url(#drop)" fill-opacity="0.72" stroke="#2f9aa4" stroke-width="0.4" stroke-opacity="0.7"/><ellipse cx="0" cy="2.2" rx="3.0" ry="2.3" fill="url(#blob)"/><circle cx="3.7" cy="-2.4" r="0.55" fill="#3c90dc" opacity="0.75"/><circle cx="2.0" cy="-0.4" r="0.55" fill="#b6eec0" opacity="0.75"/><circle cx="-1.4" cy="-0.9" r="0.55" fill="#3c90dc" opacity="0.75"/><circle cx="-0.1" cy="0.4" r="0.55" fill="#4a9ae0" opacity="0.75"/><circle cx="-1.0" cy="-0.3" r="0.55" fill="#3c90dc" opacity="0.75"/><circle cx="2.6" cy="-0.9" r="0.55" fill="#3c90dc" opacity="0.75"/><circle cx="-3.4" cy="-0.9" r="0.55" fill="#a8e6b0" opacity="0.75"/><circle cx="0.2" cy="-2.2" r="0.55" fill="#3c90dc" opacity="0.75"/><circle cx="-2.7" cy="-2.2" r="0.55" fill="#4a9ae0" opacity="0.75"/><circle cx="-3.5" cy="-2.1" r="0.55" fill="#4a9ae0" opacity="0.75"/><circle cx="-3.3" cy="-2.2" r="0.55" fill="#3c90dc" opacity="0.75"/><circle cx="-0.6" cy="-3.3" r="0.55" fill="#b6eec0" opacity="0.75"/><circle cx="-0.7" cy="-1.9" r="0.55" fill="#3c90dc" opacity="0.75"/><circle cx="-3.2" cy="-1.2" r="0.55" fill="#4a9ae0" opacity="0.75"/><circle cx="-0.8" cy="2.0" r="0.5" fill="#d89a58" opacity="0.7"/><circle cx="0.9" cy="2.7" r="0.45" fill="#d49060" opacity="0.65"/><circle cx="0.2" cy="1.5" r="0.4" fill="#d0a868" opacity="0.55"/></g>
<g transform="translate(158.74 69.21)"><circle r="4.85" fill="url(#drop)" fill-opacity="0.72" stroke="#2f9aa4" stroke-width="0.4" stroke-opacity="0.7"/><ellipse cx="0" cy="2.2" rx="3.0" ry="2.3" fill="url(#blob)"/><circle cx="-0.9" cy="-4.1" r="0.55" fill="#3c90dc" opacity="0.75"/><circle cx="-1.2" cy="-4.5" r="0.55" fill="#a8e6b0" opacity="0.75"/><circle cx="-0.6" cy="-3.9" r="0.55" fill="#b6eec0" opacity="0.75"/><circle cx="-3.3" cy="0.0" r="0.55" fill="#3c90dc" opacity="0.75"/><circle cx="1.5" cy="-0.3" r="0.55" fill="#b6eec0" opacity="0.75"/><circle cx="-0.2" cy="-2.9" r="0.55" fill="#a8e6b0" opacity="0.75"/><circle cx="-4.3" cy="-0.6" r="0.55" fill="#a8e6b0" opacity="0.75"/><circle cx="0.8" cy="-1.8" r="0.55" fill="#a8e6b0" opacity="0.75"/><circle cx="1.2" cy="-0.9" r="0.55" fill="#a8e6b0" opacity="0.75"/><circle cx="-0.6" cy="-1.5" r="0.55" fill="#3c90dc" opacity="0.75"/><circle cx="1.2" cy="-0.1" r="0.55" fill="#4a9ae0" opacity="0.75"/><circle cx="1.1" cy="-4.0" r="0.55" fill="#b6eec0" opacity="0.75"/><circle cx="1.2" cy="-2.0" r="0.55" fill="#a8e6b0" opacity="0.75"/><circle cx="-0.8" cy="2.0" r="0.5" fill="#d89a58" opacity="0.7"/><circle cx="0.9" cy="2.7" r="0.45" fill="#d49060" opacity="0.65"/><circle cx="0.2" cy="1.5" r="0.4" fill="#d0a868" opacity="0.55"/></g>
<g transform="translate(178.56 73.23)"><circle r="4.85" fill="url(#drop)" fill-opacity="0.72" stroke="#2f9aa4" stroke-width="0.4" stroke-opacity="0.7"/><ellipse cx="0" cy="2.2" rx="3.0" ry="2.3" fill="url(#blob)"/><circle cx="-2.9" cy="2.1" r="0.55" fill="#3c90dc" opacity="0.75"/><circle cx="-0.7" cy="-1.4" r="0.55" fill="#a8e6b0" opacity="0.75"/><circle cx="2.8" cy="-0.0" r="0.55" fill="#3c90dc" opacity="0.75"/><circle cx="-1.2" cy="-1.3" r="0.55" fill="#3c90dc" opacity="0.75"/><circle cx="-3.6" cy="-0.9" r="0.55" fill="#4a9ae0" opacity="0.75"/><circle cx="-2.6" cy="-1.4" r="0.55" fill="#4a9ae0" opacity="0.75"/><circle cx="3.3" cy="1.8" r="0.55" fill="#3c90dc" opacity="0.75"/><circle cx="-1.8" cy="-1.8" r="0.55" fill="#a8e6b0" opacity="0.75"/><circle cx="-1.2" cy="-0.3" r="0.55" fill="#4a9ae0" opacity="0.75"/><circle cx="2.8" cy="0.6" r="0.55" fill="#3c90dc" opacity="0.75"/><circle cx="-1.2" cy="-0.9" r="0.55" fill="#4a9ae0" opacity="0.75"/><circle cx="-2.3" cy="-1.4" r="0.55" fill="#b6eec0" opacity="0.75"/><circle cx="-0.8" cy="2.0" r="0.5" fill="#d89a58" opacity="0.7"/><circle cx="0.9" cy="2.7" r="0.45" fill="#d49060" opacity="0.65"/><circle cx="0.2" cy="1.5" r="0.4" fill="#d0a868" opacity="0.55"/></g>
<g transform="translate(198.38 77.25)"><circle r="4.85" fill="url(#drop)" fill-opacity="0.72" stroke="#2f9aa4" stroke-width="0.4" stroke-opacity="0.7"/><ellipse cx="0" cy="2.2" rx="3.0" ry="2.3" fill="url(#blob)"/><circle cx="-0.0" cy="-2.2" r="0.55" fill="#3c90dc" opacity="0.75"/><circle cx="-2.5" cy="0.5" r="0.55" fill="#3c90dc" opacity="0.75"/><circle cx="0.6" cy="-3.9" r="0.55" fill="#3c90dc" opacity="0.75"/><circle cx="-0.4" cy="-3.5" r="0.55" fill="#3c90dc" opacity="0.75"/><circle cx="-2.7" cy="-3.6" r="0.55" fill="#b6eec0" opacity="0.75"/><circle cx="-0.3" cy="-2.1" r="0.55" fill="#3c90dc" opacity="0.75"/><circle cx="-1.9" cy="-3.7" r="0.55" fill="#3c90dc" opacity="0.75"/><circle cx="2.2" cy="-3.9" r="0.55" fill="#a8e6b0" opacity="0.75"/><circle cx="3.4" cy="0.0" r="0.55" fill="#4a9ae0" opacity="0.75"/><circle cx="-2.6" cy="-1.2" r="0.55" fill="#3c90dc" opacity="0.75"/><circle cx="-3.1" cy="0.1" r="0.55" fill="#a8e6b0" opacity="0.75"/><circle cx="1.5" cy="-3.9" r="0.55" fill="#b6eec0" opacity="0.75"/><circle cx="-3.0" cy="0.7" r="0.55" fill="#3c90dc" opacity="0.75"/><circle cx="1.3" cy="-1.8" r="0.55" fill="#4a9ae0" opacity="0.75"/><circle cx="-0.8" cy="2.0" r="0.5" fill="#d89a58" opacity="0.7"/><circle cx="0.9" cy="2.7" r="0.45" fill="#d49060" opacity="0.65"/><circle cx="0.2" cy="1.5" r="0.4" fill="#d0a868" opacity="0.55"/></g>
<g transform="translate(88.54 64.40)"><circle r="4.85" fill="url(#drop)" fill-opacity="0.72" stroke="#2f9aa4" stroke-width="0.4" stroke-opacity="0.7"/><ellipse cx="0" cy="2.2" rx="3.0" ry="2.3" fill="url(#blob)"/><circle cx="1.1" cy="0.3" r="0.55" fill="#4a9ae0" opacity="0.75"/><circle cx="-0.4" cy="-2.2" r="0.55" fill="#b6eec0" opacity="0.75"/><circle cx="0.1" cy="-2.2" r="0.55" fill="#3c90dc" opacity="0.75"/><circle cx="-2.9" cy="1.7" r="0.55" fill="#3c90dc" opacity="0.75"/><circle cx="-1.3" cy="-1.6" r="0.55" fill="#b6eec0" opacity="0.75"/><circle cx="2.0" cy="-0.8" r="0.55" fill="#3c90dc" opacity="0.75"/><circle cx="-3.4" cy="-1.0" r="0.55" fill="#a8e6b0" opacity="0.75"/><circle cx="-3.1" cy="-3.1" r="0.55" fill="#b6eec0" opacity="0.75"/><circle cx="0.7" cy="0.1" r="0.55" fill="#a8e6b0" opacity="0.75"/><circle cx="-1.2" cy="-1.9" r="0.55" fill="#4a9ae0" opacity="0.75"/><circle cx="-3.9" cy="-1.4" r="0.55" fill="#3c90dc" opacity="0.75"/><circle cx="-3.5" cy="-2.3" r="0.55" fill="#3c90dc" opacity="0.75"/><circle cx="-0.7" cy="0.2" r="0.55" fill="#b6eec0" opacity="0.75"/><circle cx="-0.8" cy="2.0" r="0.5" fill="#d89a58" opacity="0.7"/><circle cx="0.9" cy="2.7" r="0.45" fill="#d49060" opacity="0.65"/><circle cx="0.2" cy="1.5" r="0.4" fill="#d0a868" opacity="0.55"/></g>
<g transform="translate(108.36 68.42)"><circle r="4.85" fill="url(#drop)" fill-opacity="0.72" stroke="#2f9aa4" stroke-width="0.4" stroke-opacity="0.7"/><ellipse cx="0" cy="2.2" rx="3.0" ry="2.3" fill="url(#blob)"/><circle cx="-2.0" cy="-1.2" r="0.55" fill="#4a9ae0" opacity="0.75"/><circle cx="1.3" cy="-0.8" r="0.55" fill="#b6eec0" opacity="0.75"/><circle cx="-2.1" cy="-3.4" r="0.55" fill="#3c90dc" opacity="0.75"/><circle cx="2.1" cy="-0.6" r="0.55" fill="#4a9ae0" opacity="0.75"/><circle cx="-3.6" cy="-1.5" r="0.55" fill="#3c90dc" opacity="0.75"/><circle cx="-1.5" cy="-0.1" r="0.55" fill="#b6eec0" opacity="0.75"/><circle cx="0.7" cy="-3.6" r="0.55" fill="#4a9ae0" opacity="0.75"/><circle cx="-2.8" cy="-1.0" r="0.55" fill="#b6eec0" opacity="0.75"/><circle cx="0.6" cy="-3.1" r="0.55" fill="#a8e6b0" opacity="0.75"/><circle cx="0.1" cy="-3.4" r="0.55" fill="#b6eec0" opacity="0.75"/><circle cx="-2.4" cy="1.1" r="0.55" fill="#3c90dc" opacity="0.75"/><circle cx="-0.5" cy="-4.3" r="0.55" fill="#3c90dc" opacity="0.75"/><circle cx="-0.8" cy="2.0" r="0.5" fill="#d89a58" opacity="0.7"/><circle cx="0.9" cy="2.7" r="0.45" fill="#d49060" opacity="0.65"/><circle cx="0.2" cy="1.5" r="0.4" fill="#d0a868" opacity="0.55"/></g>
<g transform="translate(128.18 72.44)"><circle r="4.85" fill="url(#drop)" fill-opacity="0.72" stroke="#2f9aa4" stroke-width="0.4" stroke-opacity="0.7"/><ellipse cx="0" cy="2.2" rx="3.0" ry="2.3" fill="url(#blob)"/><circle cx="-1.9" cy="-1.1" r="0.55" fill="#3c90dc" opacity="0.75"/><circle cx="-2.7" cy="-3.1" r="0.55" fill="#a8e6b0" opacity="0.75"/><circle cx="2.1" cy="0.0" r="0.55" fill="#3c90dc" opacity="0.75"/><circle cx="2.5" cy="-0.8" r="0.55" fill="#4a9ae0" opacity="0.75"/><circle cx="1.8" cy="-0.7" r="0.55" fill="#3c90dc" opacity="0.75"/><circle cx="4.0" cy="-0.6" r="0.55" fill="#4a9ae0" opacity="0.75"/><circle cx="-2.3" cy="-1.0" r="0.55" fill="#a8e6b0" opacity="0.75"/><circle cx="-1.2" cy="-0.9" r="0.55" fill="#3c90dc" opacity="0.75"/><circle cx="1.6" cy="0.4" r="0.55" fill="#4a9ae0" opacity="0.75"/><circle cx="1.1" cy="-1.4" r="0.55" fill="#b6eec0" opacity="0.75"/><circle cx="1.3" cy="-1.1" r="0.55" fill="#a8e6b0" opacity="0.75"/><circle cx="1.3" cy="-1.8" r="0.55" fill="#3c90dc" opacity="0.75"/><circle cx="0.8" cy="0.1" r="0.55" fill="#4a9ae0" opacity="0.75"/><circle cx="-0.8" cy="2.0" r="0.5" fill="#d89a58" opacity="0.7"/><circle cx="0.9" cy="2.7" r="0.45" fill="#d49060" opacity="0.65"/><circle cx="0.2" cy="1.5" r="0.4" fill="#d0a868" opacity="0.55"/></g>
<g transform="translate(148.00 76.46)"><circle r="4.85" fill="url(#drop)" fill-opacity="0.72" stroke="#2f9aa4" stroke-width="0.4" stroke-opacity="0.7"/><ellipse cx="0" cy="2.2" rx="3.0" ry="2.3" fill="url(#blob)"/><circle cx="1.4" cy="-0.5" r="0.55" fill="#b6eec0" opacity="0.75"/><circle cx="0.7" cy="0.2" r="0.55" fill="#3c90dc" opacity="0.75"/><circle cx="-3.3" cy="-1.3" r="0.55" fill="#3c90dc" opacity="0.75"/><circle cx="-0.8" cy="-1.8" r="0.55" fill="#4a9ae0" opacity="0.75"/><circle cx="-0.3" cy="-3.2" r="0.55" fill="#3c90dc" opacity="0.75"/><circle cx="1.3" cy="-0.6" r="0.55" fill="#3c90dc" opacity="0.75"/><circle cx="0.5" cy="-4.3" r="0.55" fill="#a8e6b0" opacity="0.75"/><circle cx="-2.7" cy="2.4" r="0.55" fill="#3c90dc" opacity="0.75"/><circle cx="-0.4" cy="-2.8" r="0.55" fill="#4a9ae0" opacity="0.75"/><circle cx="1.1" cy="-0.2" r="0.55" fill="#3c90dc" opacity="0.75"/><circle cx="2.2" cy="-4.1" r="0.55" fill="#3c90dc" opacity="0.75"/><circle cx="-3.4" cy="0.7" r="0.55" fill="#3c90dc" opacity="0.75"/><circle cx="-0.8" cy="2.0" r="0.5" fill="#d89a58" opacity="0.7"/><circle cx="0.9" cy="2.7" r="0.45" fill="#d49060" opacity="0.65"/><circle cx="0.2" cy="1.5" r="0.4" fill="#d0a868" opacity="0.55"/></g>
<g transform="translate(167.82 80.48)"><circle r="4.85" fill="url(#drop)" fill-opacity="0.72" stroke="#2f9aa4" stroke-width="0.4" stroke-opacity="0.7"/><ellipse cx="0" cy="2.2" rx="3.0" ry="2.3" fill="url(#blob)"/><circle cx="1.5" cy="0.2" r="0.55" fill="#a8e6b0" opacity="0.75"/><circle cx="-0.6" cy="-2.2" r="0.55" fill="#3c90dc" opacity="0.75"/><circle cx="-0.2" cy="-1.8" r="0.55" fill="#4a9ae0" opacity="0.75"/><circle cx="-0.6" cy="0.4" r="0.55" fill="#b6eec0" opacity="0.75"/><circle cx="-0.7" cy="0.1" r="0.55" fill="#3c90dc" opacity="0.75"/><circle cx="-2.6" cy="-1.0" r="0.55" fill="#3c90dc" opacity="0.75"/><circle cx="2.1" cy="-4.0" r="0.55" fill="#3c90dc" opacity="0.75"/><circle cx="-2.0" cy="0.1" r="0.55" fill="#3c90dc" opacity="0.75"/><circle cx="1.4" cy="-0.8" r="0.55" fill="#3c90dc" opacity="0.75"/><circle cx="-2.2" cy="0.3" r="0.55" fill="#3c90dc" opacity="0.75"/><circle cx="-1.6" cy="-1.2" r="0.55" fill="#b6eec0" opacity="0.75"/><circle cx="-0.2" cy="-3.3" r="0.55" fill="#4a9ae0" opacity="0.75"/><circle cx="1.0" cy="-0.1" r="0.55" fill="#a8e6b0" opacity="0.75"/><circle cx="-0.8" cy="2.0" r="0.5" fill="#d89a58" opacity="0.7"/><circle cx="0.9" cy="2.7" r="0.45" fill="#d49060" opacity="0.65"/><circle cx="0.2" cy="1.5" r="0.4" fill="#d0a868" opacity="0.55"/></g>
<g transform="translate(187.64 84.50)"><circle r="4.85" fill="url(#drop)" fill-opacity="0.72" stroke="#2f9aa4" stroke-width="0.4" stroke-opacity="0.7"/><ellipse cx="0" cy="2.2" rx="3.0" ry="2.3" fill="url(#blob)"/><circle cx="-2.8" cy="-1.9" r="0.55" fill="#a8e6b0" opacity="0.75"/><circle cx="-3.9" cy="-0.1" r="0.55" fill="#4a9ae0" opacity="0.75"/><circle cx="1.4" cy="-1.4" r="0.55" fill="#4a9ae0" opacity="0.75"/><circle cx="1.9" cy="-1.3" r="0.55" fill="#4a9ae0" opacity="0.75"/><circle cx="-1.9" cy="-0.4" r="0.55" fill="#3c90dc" opacity="0.75"/><circle cx="-1.2" cy="-0.6" r="0.55" fill="#4a9ae0" opacity="0.75"/><circle cx="2.1" cy="-3.0" r="0.55" fill="#a8e6b0" opacity="0.75"/><circle cx="2.5" cy="-1.8" r="0.55" fill="#3c90dc" opacity="0.75"/><circle cx="0.9" cy="0.2" r="0.55" fill="#a8e6b0" opacity="0.75"/><circle cx="4.3" cy="-0.7" r="0.55" fill="#3c90dc" opacity="0.75"/><circle cx="-0.0" cy="-1.9" r="0.55" fill="#a8e6b0" opacity="0.75"/><circle cx="0.3" cy="-3.1" r="0.55" fill="#a8e6b0" opacity="0.75"/><circle cx="2.7" cy="-0.5" r="0.55" fill="#a8e6b0" opacity="0.75"/><circle cx="-2.1" cy="-1.3" r="0.55" fill="#3c90dc" opacity="0.75"/><circle cx="1.6" cy="-2.0" r="0.55" fill="#4a9ae0" opacity="0.75"/><circle cx="-0.8" cy="2.0" r="0.5" fill="#d89a58" opacity="0.7"/><circle cx="0.9" cy="2.7" r="0.45" fill="#d49060" opacity="0.65"/><circle cx="0.2" cy="1.5" r="0.4" fill="#d0a868" opacity="0.55"/></g>
<g transform="translate(77.80 71.65)"><circle r="4.85" fill="url(#drop)" fill-opacity="0.72" stroke="#2f9aa4" stroke-width="0.4" stroke-opacity="0.7"/><ellipse cx="0" cy="2.2" rx="3.0" ry="2.3" fill="url(#blob)"/><circle cx="-3.3" cy="-1.6" r="0.55" fill="#a8e6b0" opacity="0.75"/><circle cx="1.3" cy="-2.0" r="0.55" fill="#a8e6b0" opacity="0.75"/><circle cx="-3.2" cy="-1.9" r="0.55" fill="#a8e6b0" opacity="0.75"/><circle cx="-2.1" cy="-3.4" r="0.55" fill="#4a9ae0" opacity="0.75"/><circle cx="1.2" cy="-1.1" r="0.55" fill="#3c90dc" opacity="0.75"/><circle cx="1.0" cy="-0.9" r="0.55" fill="#b6eec0" opacity="0.75"/><circle cx="-0.8" cy="0.1" r="0.55" fill="#b6eec0" opacity="0.75"/><circle cx="1.7" cy="-0.1" r="0.55" fill="#a8e6b0" opacity="0.75"/><circle cx="1.9" cy="0.4" r="0.55" fill="#4a9ae0" opacity="0.75"/><circle cx="3.4" cy="1.0" r="0.55" fill="#3c90dc" opacity="0.75"/><circle cx="-0.7" cy="-1.8" r="0.55" fill="#b6eec0" opacity="0.75"/><circle cx="2.6" cy="-1.0" r="0.55" fill="#b6eec0" opacity="0.75"/><circle cx="-0.8" cy="-1.3" r="0.55" fill="#4a9ae0" opacity="0.75"/><circle cx="0.3" cy="-3.0" r="0.55" fill="#4a9ae0" opacity="0.75"/><circle cx="0.2" cy="-4.3" r="0.55" fill="#3c90dc" opacity="0.75"/><circle cx="-0.8" cy="2.0" r="0.5" fill="#d89a58" opacity="0.7"/><circle cx="0.9" cy="2.7" r="0.45" fill="#d49060" opacity="0.65"/><circle cx="0.2" cy="1.5" r="0.4" fill="#d0a868" opacity="0.55"/></g>
<g transform="translate(97.62 75.67)"><circle r="4.85" fill="url(#drop)" fill-opacity="0.72" stroke="#2f9aa4" stroke-width="0.4" stroke-opacity="0.7"/><ellipse cx="0" cy="2.2" rx="3.0" ry="2.3" fill="url(#blob)"/><circle cx="3.9" cy="-1.6" r="0.55" fill="#a8e6b0" opacity="0.75"/><circle cx="0.7" cy="-1.3" r="0.55" fill="#3c90dc" opacity="0.75"/><circle cx="-2.6" cy="0.5" r="0.55" fill="#4a9ae0" opacity="0.75"/><circle cx="2.1" cy="0.4" r="0.55" fill="#b6eec0" opacity="0.75"/><circle cx="2.1" cy="-0.8" r="0.55" fill="#b6eec0" opacity="0.75"/><circle cx="1.8" cy="-2.0" r="0.55" fill="#3c90dc" opacity="0.75"/><circle cx="-3.3" cy="-0.9" r="0.55" fill="#3c90dc" opacity="0.75"/><circle cx="-1.6" cy="-0.8" r="0.55" fill="#4a9ae0" opacity="0.75"/><circle cx="-3.2" cy="2.1" r="0.55" fill="#3c90dc" opacity="0.75"/><circle cx="0.1" cy="-2.2" r="0.55" fill="#a8e6b0" opacity="0.75"/><circle cx="1.3" cy="-4.1" r="0.55" fill="#a8e6b0" opacity="0.75"/><circle cx="-1.4" cy="-1.7" r="0.55" fill="#4a9ae0" opacity="0.75"/><circle cx="-0.8" cy="2.0" r="0.5" fill="#d89a58" opacity="0.7"/><circle cx="0.9" cy="2.7" r="0.45" fill="#d49060" opacity="0.65"/><circle cx="0.2" cy="1.5" r="0.4" fill="#d0a868" opacity="0.55"/></g>
<g transform="translate(117.44 79.69)"><circle r="4.85" fill="url(#drop)" fill-opacity="0.72" stroke="#2f9aa4" stroke-width="0.4" stroke-opacity="0.7"/><ellipse cx="0" cy="2.2" rx="3.0" ry="2.3" fill="url(#blob)"/><circle cx="-0.5" cy="-1.7" r="0.55" fill="#4a9ae0" opacity="0.75"/><circle cx="-1.8" cy="-3.4" r="0.55" fill="#4a9ae0" opacity="0.75"/><circle cx="4.1" cy="0.3" r="0.55" fill="#b6eec0" opacity="0.75"/><circle cx="-1.3" cy="-0.8" r="0.55" fill="#b6eec0" opacity="0.75"/><circle cx="-1.6" cy="-1.7" r="0.55" fill="#b6eec0" opacity="0.75"/><circle cx="2.4" cy="-1.0" r="0.55" fill="#3c90dc" opacity="0.75"/><circle cx="4.1" cy="-1.6" r="0.55" fill="#3c90dc" opacity="0.75"/><circle cx="1.0" cy="0.0" r="0.55" fill="#a8e6b0" opacity="0.75"/><circle cx="2.8" cy="-1.9" r="0.55" fill="#b6eec0" opacity="0.75"/><circle cx="1.3" cy="-3.0" r="0.55" fill="#4a9ae0" opacity="0.75"/><circle cx="3.6" cy="-1.2" r="0.55" fill="#4a9ae0" opacity="0.75"/><circle cx="3.2" cy="-0.4" r="0.55" fill="#a8e6b0" opacity="0.75"/><circle cx="2.6" cy="0.6" r="0.55" fill="#3c90dc" opacity="0.75"/><circle cx="0.5" cy="-1.5" r="0.55" fill="#3c90dc" opacity="0.75"/><circle cx="-0.8" cy="2.0" r="0.5" fill="#d89a58" opacity="0.7"/><circle cx="0.9" cy="2.7" r="0.45" fill="#d49060" opacity="0.65"/><circle cx="0.2" cy="1.5" r="0.4" fill="#d0a868" opacity="0.55"/></g>
<g transform="translate(137.26 83.71)"><circle r="4.85" fill="url(#drop)" fill-opacity="0.72" stroke="#2f9aa4" stroke-width="0.4" stroke-opacity="0.7"/><ellipse cx="0" cy="2.2" rx="3.0" ry="2.3" fill="url(#blob)"/><circle cx="-1.5" cy="-2.4" r="0.55" fill="#3c90dc" opacity="0.75"/><circle cx="3.0" cy="0.7" r="0.55" fill="#a8e6b0" opacity="0.75"/><circle cx="3.1" cy="0.2" r="0.55" fill="#4a9ae0" opacity="0.75"/><circle cx="-4.1" cy="0.1" r="0.55" fill="#4a9ae0" opacity="0.75"/><circle cx="-3.3" cy="1.7" r="0.55" fill="#3c90dc" opacity="0.75"/><circle cx="-1.4" cy="-0.8" r="0.55" fill="#4a9ae0" opacity="0.75"/><circle cx="-0.7" cy="-4.3" r="0.55" fill="#4a9ae0" opacity="0.75"/><circle cx="-1.5" cy="-0.6" r="0.55" fill="#3c90dc" opacity="0.75"/><circle cx="1.0" cy="-1.4" r="0.55" fill="#b6eec0" opacity="0.75"/><circle cx="-2.3" cy="0.1" r="0.55" fill="#a8e6b0" opacity="0.75"/><circle cx="-1.0" cy="-1.7" r="0.55" fill="#a8e6b0" opacity="0.75"/><circle cx="-0.8" cy="2.0" r="0.5" fill="#d89a58" opacity="0.7"/><circle cx="0.9" cy="2.7" r="0.45" fill="#d49060" opacity="0.65"/><circle cx="0.2" cy="1.5" r="0.4" fill="#d0a868" opacity="0.55"/></g>
<g transform="translate(157.08 87.73)"><circle r="4.85" fill="url(#drop)" fill-opacity="0.72" stroke="#2f9aa4" stroke-width="0.4" stroke-opacity="0.7"/><ellipse cx="0" cy="2.2" rx="3.0" ry="2.3" fill="url(#blob)"/><circle cx="-2.9" cy="-1.7" r="0.55" fill="#a8e6b0" opacity="0.75"/><circle cx="-1.5" cy="-3.4" r="0.55" fill="#3c90dc" opacity="0.75"/><circle cx="0.9" cy="-0.2" r="0.55" fill="#b6eec0" opacity="0.75"/><circle cx="-1.6" cy="-1.5" r="0.55" fill="#3c90dc" opacity="0.75"/><circle cx="-1.8" cy="-0.2" r="0.55" fill="#a8e6b0" opacity="0.75"/><circle cx="-3.1" cy="-1.9" r="0.55" fill="#3c90dc" opacity="0.75"/><circle cx="-2.3" cy="-3.7" r="0.55" fill="#4a9ae0" opacity="0.75"/><circle cx="-3.5" cy="-0.2" r="0.55" fill="#b6eec0" opacity="0.75"/><circle cx="1.3" cy="-4.3" r="0.55" fill="#a8e6b0" opacity="0.75"/><circle cx="-0.8" cy="2.0" r="0.5" fill="#d89a58" opacity="0.7"/><circle cx="0.9" cy="2.7" r="0.45" fill="#d49060" opacity="0.65"/><circle cx="0.2" cy="1.5" r="0.4" fill="#d0a868" opacity="0.55"/></g>
<g transform="translate(176.90 91.75)"><circle r="4.85" fill="url(#drop)" fill-opacity="0.72" stroke="#2f9aa4" stroke-width="0.4" stroke-opacity="0.7"/><ellipse cx="0" cy="2.2" rx="3.0" ry="2.3" fill="url(#blob)"/><circle cx="-3.8" cy="0.4" r="0.55" fill="#3c90dc" opacity="0.75"/><circle cx="-1.1" cy="-1.8" r="0.55" fill="#a8e6b0" opacity="0.75"/><circle cx="1.1" cy="-3.0" r="0.55" fill="#3c90dc" opacity="0.75"/><circle cx="1.6" cy="-0.0" r="0.55" fill="#b6eec0" opacity="0.75"/><circle cx="0.7" cy="-1.5" r="0.55" fill="#4a9ae0" opacity="0.75"/><circle cx="-1.1" cy="-2.9" r="0.55" fill="#3c90dc" opacity="0.75"/><circle cx="-1.0" cy="0.0" r="0.55" fill="#a8e6b0" opacity="0.75"/><circle cx="-0.3" cy="-2.6" r="0.55" fill="#3c90dc" opacity="0.75"/><circle cx="-0.7" cy="-2.4" r="0.55" fill="#3c90dc" opacity="0.75"/><circle cx="1.3" cy="-1.6" r="0.55" fill="#b6eec0" opacity="0.75"/><circle cx="-1.6" cy="-0.8" r="0.55" fill="#3c90dc" opacity="0.75"/><circle cx="-0.8" cy="2.0" r="0.5" fill="#d89a58" opacity="0.7"/><circle cx="0.9" cy="2.7" r="0.45" fill="#d49060" opacity="0.65"/><circle cx="0.2" cy="1.5" r="0.4" fill="#d0a868" opacity="0.55"/></g>
<clipPath id="outside"><path clip-rule="evenodd" d="M0 0H448V252H0Z M61.5 77.4 L128 34.2 L240.7 57.8 L240.7 62 L180.7 102.1Z"/></clipPath>
<g clip-path="url(#outside)">
<circle cx="131.50" cy="35.40" r="4.85" fill="#c4eeee" fill-opacity="0.8" stroke="#44b4c0" stroke-width="0.5"/>
<circle cx="151.32" cy="39.42" r="4.85" fill="#c4eeee" fill-opacity="0.8" stroke="#44b4c0" stroke-width="0.5"/>
<circle cx="171.14" cy="43.44" r="4.85" fill="#c4eeee" fill-opacity="0.8" stroke="#44b4c0" stroke-width="0.5"/>
<circle cx="190.96" cy="47.46" r="4.85" fill="#c4eeee" fill-opacity="0.8" stroke="#44b4c0" stroke-width="0.5"/>
<circle cx="210.78" cy="51.48" r="4.85" fill="#c4eeee" fill-opacity="0.8" stroke="#44b4c0" stroke-width="0.5"/>
<circle cx="230.60" cy="55.50" r="4.85" fill="#c4eeee" fill-opacity="0.8" stroke="#44b4c0" stroke-width="0.5"/>
<circle cx="120.76" cy="42.65" r="4.85" fill="#c4eeee" fill-opacity="0.8" stroke="#44b4c0" stroke-width="0.5"/>
<circle cx="110.02" cy="49.90" r="4.85" fill="#c4eeee" fill-opacity="0.8" stroke="#44b4c0" stroke-width="0.5"/>
<circle cx="99.28" cy="57.15" r="4.85" fill="#c4eeee" fill-opacity="0.8" stroke="#44b4c0" stroke-width="0.5"/>
<circle cx="88.54" cy="64.40" r="4.85" fill="#c4eeee" fill-opacity="0.8" stroke="#44b4c0" stroke-width="0.5"/>
<circle cx="77.80" cy="71.65" r="4.85" fill="#c4eeee" fill-opacity="0.8" stroke="#44b4c0" stroke-width="0.5"/>
</g>
<text x="130.70" y="24.60" font-size="6.93" fill="#111" stroke="#111" stroke-width="0.17" text-anchor="start" >Saltwater droplets</text>
<polygon points="131.76,99.25 130.47,99.33 129.21,99.55 127.99,99.88 126.81,100.30 125.67,100.83 124.58,101.44 123.53,102.15 122.54,102.93 121.60,103.79 120.72,104.71 119.90,105.71 119.14,106.76 118.44,107.86 117.81,109.01 117.25,110.21 116.75,111.44 116.32,112.71 115.96,114.00 115.67,115.32 115.45,116.65 115.31,118.00 115.25,119.35 115.26,120.70 115.34,122.06 115.51,123.40 115.75,124.73 116.08,126.04 116.48,127.32 116.97,128.57 117.53,129.79 118.18,130.97 118.92,132.09 119.73,133.17 120.63,134.18 121.62,135.12 122.61,136.07 123.69,136.96 124.86,137.78 126.11,138.54 127.45,139.22 127.75,138.58 126.45,137.93 125.24,137.20 124.11,136.40 123.07,135.55 122.12,134.63 121.32,133.60 120.60,132.54 119.96,131.45 119.39,130.32 118.90,129.18 118.48,128.00 118.13,126.81 117.85,125.60 117.64,124.38 117.49,123.15 117.41,121.91 117.39,120.67 117.43,119.43 117.54,118.20 117.70,116.97 117.91,115.76 118.19,114.56 118.52,113.38 118.90,112.23 119.33,111.10 119.82,110.00 120.36,108.94 120.95,107.92 121.59,106.94 122.27,106.01 123.01,105.12 123.79,104.29 124.62,103.52 125.50,102.80 126.43,102.15 127.41,101.57 128.44,101.05 129.52,100.61 130.65,100.25 131.84,99.95" fill="url(#arr1)"/>
<polygon points="127.2,136.4 132,140.8 125.6,142.6" fill="#b2b2b2"/>
<g fill="none" stroke="#3f6fd8" stroke-width="1"><path d="M134.7 122.2 V114 a1.6 1.6 0 0 1 3.2 0 V122.2 a3.5 3.5 0 1 1 -3.2 0 Z"/><circle cx="136.3" cy="125.3" r="1.45"/><line x1="136.3" y1="123.8" x2="136.3" y2="116.6"/></g>
<text x="144.20" y="125.00" font-size="6.85" fill="#111" stroke="#111" stroke-width="0.17" text-anchor="start" >Nucleation temperature</text>
<text x="224.30" y="185.70" font-size="7" fill="#111" stroke="#111" stroke-width="0.17" text-anchor="middle" >Statistical</text>
<text x="224.30" y="194.10" font-size="7" fill="#111" stroke="#111" stroke-width="0.17" text-anchor="middle" >characteristics</text>
<polygon points="203.17,202.33 203.46,203.51 203.86,204.64 204.36,205.72 204.95,206.75 205.63,207.72 206.38,208.64 207.20,209.49 208.09,210.29 209.04,211.03 210.05,211.72 211.11,212.34 212.21,212.90 213.36,213.40 214.55,213.84 215.76,214.22 217.01,214.54 218.28,214.80 219.56,215.00 220.87,215.15 222.18,215.23 223.50,215.26 224.81,215.23 226.13,215.15 227.44,215.01 228.74,214.81 230.02,214.56 231.29,214.26 232.53,213.90 233.74,213.48 234.92,213.02 236.06,212.50 237.15,211.92 238.20,211.30 239.20,210.62 240.13,209.89 241.06,209.18 241.93,208.42 242.74,207.62 243.49,206.76 244.17,205.86 243.43,205.34 242.79,206.19 242.09,207.00 241.32,207.76 240.49,208.48 239.61,209.16 238.63,209.72 237.61,210.23 236.55,210.70 235.47,211.13 234.36,211.52 233.21,211.86 232.05,212.16 230.86,212.42 229.66,212.63 228.45,212.80 227.22,212.92 225.99,213.00 224.76,213.03 223.52,213.02 222.30,212.97 221.08,212.87 219.87,212.72 218.68,212.54 217.51,212.30 216.37,212.02 215.25,211.70 214.15,211.33 213.10,210.92 212.08,210.45 211.09,209.95 210.15,209.39 209.26,208.79 208.41,208.14 207.62,207.44 206.87,206.69 206.19,205.88 205.56,205.02 204.99,204.10 204.49,203.11 204.03,202.07" fill="url(#arr2)"/>
<polygon points="241.6,204.4 246.8,202 246.2,207.8" fill="#bebebe"/>
<line x1="258.70" y1="16.90" x2="371.40" y2="16.90" stroke="#8c8c8c" stroke-width="0.9" />
<line x1="258.70" y1="107.80" x2="371.40" y2="107.80" stroke="#7c7c7c" stroke-width="1.0" />
<line x1="258.70" y1="16.50" x2="258.70" y2="108.20" stroke="#3d84f5" stroke-width="0.7" />
<line x1="371.40" y1="16.50" x2="371.40" y2="108.20" stroke="#f4483c" stroke-width="0.7" />
<line x1="258.70" y1="16.90" x2="260.30" y2="16.90" stroke="#3d84f5" stroke-width="0.5" />
<text x="256.80" y="18.35" font-size="4" fill="#3d84f5" stroke="#3d84f5" stroke-width="0.05" text-anchor="end" >-550</text>
<line x1="258.70" y1="21.45" x2="259.60" y2="21.45" stroke="#3d84f5" stroke-width="0.4" />
<line x1="258.70" y1="25.99" x2="260.30" y2="25.99" stroke="#3d84f5" stroke-width="0.5" />
<text x="256.80" y="27.44" font-size="4" fill="#3d84f5" stroke="#3d84f5" stroke-width="0.05" text-anchor="end" >-500</text>
<line x1="258.70" y1="30.53" x2="259.60" y2="30.53" stroke="#3d84f5" stroke-width="0.4" />
<line x1="258.70" y1="35.08" x2="260.30" y2="35.08" stroke="#3d84f5" stroke-width="0.5" />
<text x="256.80" y="36.53" font-size="4" fill="#3d84f5" stroke="#3d84f5" stroke-width="0.05" text-anchor="end" >-450</text>
<line x1="258.70" y1="39.62" x2="259.60" y2="39.62" stroke="#3d84f5" stroke-width="0.4" />
<line x1="258.70" y1="44.17" x2="260.30" y2="44.17" stroke="#3d84f5" stroke-width="0.5" />
<text x="256.80" y="45.62" font-size="4" fill="#3d84f5" stroke="#3d84f5" stroke-width="0.05" text-anchor="end" >-400</text>
<line x1="258.70" y1="48.72" x2="259.60" y2="48.72" stroke="#3d84f5" stroke-width="0.4" />
<line x1="258.70" y1="53.26" x2="260.30" y2="53.26" stroke="#3d84f5" stroke-width="0.5" />
<text x="256.80" y="54.71" font-size="4" fill="#3d84f5" stroke="#3d84f5" stroke-width="0.05" text-anchor="end" >-350</text>
<line x1="258.70" y1="57.80" x2="259.60" y2="57.80" stroke="#3d84f5" stroke-width="0.4" />
<line x1="258.70" y1="62.35" x2="260.30" y2="62.35" stroke="#3d84f5" stroke-width="0.5" />
<text x="256.80" y="63.80" font-size="4" fill="#3d84f5" stroke="#3d84f5" stroke-width="0.05" text-anchor="end" >-300</text>
<line x1="258.70" y1="66.89" x2="259.60" y2="66.89" stroke="#3d84f5" stroke-width="0.4" />
<line x1="258.70" y1="71.44" x2="260.30" y2="71.44" stroke="#3d84f5" stroke-width="0.5" />
<text x="256.80" y="72.89" font-size="4" fill="#3d84f5" stroke="#3d84f5" stroke-width="0.05" text-anchor="end" >-250</text>
<line x1="258.70" y1="75.98" x2="259.60" y2="75.98" stroke="#3d84f5" stroke-width="0.4" />
<line x1="258.70" y1="80.53" x2="260.30" y2="80.53" stroke="#3d84f5" stroke-width="0.5" />
<text x="256.80" y="81.98" font-size="4" fill="#3d84f5" stroke="#3d84f5" stroke-width="0.05" text-anchor="end" >-200</text>
<line x1="258.70" y1="85.08" x2="259.60" y2="85.08" stroke="#3d84f5" stroke-width="0.4" />
<line x1="258.70" y1="89.62" x2="260.30" y2="89.62" stroke="#3d84f5" stroke-width="0.5" />
<text x="256.80" y="91.07" font-size="4" fill="#3d84f5" stroke="#3d84f5" stroke-width="0.05" text-anchor="end" >-150</text>
<line x1="258.70" y1="94.17" x2="259.60" y2="94.17" stroke="#3d84f5" stroke-width="0.4" />
<line x1="258.70" y1="98.71" x2="260.30" y2="98.71" stroke="#3d84f5" stroke-width="0.5" />
<text x="256.80" y="100.16" font-size="4" fill="#3d84f5" stroke="#3d84f5" stroke-width="0.05" text-anchor="end" >-100</text>
<line x1="258.70" y1="103.26" x2="259.60" y2="103.26" stroke="#3d84f5" stroke-width="0.4" />
<line x1="258.70" y1="107.80" x2="260.30" y2="107.80" stroke="#3d84f5" stroke-width="0.5" />
<text x="256.80" y="109.25" font-size="4" fill="#3d84f5" stroke="#3d84f5" stroke-width="0.05" text-anchor="end" >-50</text>
<text transform="translate(245.00 59.40) rotate(-90)" font-size="4.3" fill="#3d84f5" stroke="#3d84f5" stroke-width="0.05" text-anchor="middle" >Hydration Energy (Kcal/mol)</text>
<line x1="371.40" y1="25.90" x2="369.70" y2="25.90" stroke="#f4483c" stroke-width="0.5" />
<line x1="371.40" y1="35.02" x2="370.40" y2="35.02" stroke="#f4483c" stroke-width="0.4" />
<text x="373.90" y="27.35" font-size="4" fill="#f4483c" stroke="#f4483c" stroke-width="0.05" text-anchor="start" >1.4</text>
<line x1="371.40" y1="44.15" x2="369.70" y2="44.15" stroke="#f4483c" stroke-width="0.5" />
<line x1="371.40" y1="53.27" x2="370.40" y2="53.27" stroke="#f4483c" stroke-width="0.4" />
<text x="373.90" y="45.60" font-size="4" fill="#f4483c" stroke="#f4483c" stroke-width="0.05" text-anchor="start" >1.3</text>
<line x1="371.40" y1="62.40" x2="369.70" y2="62.40" stroke="#f4483c" stroke-width="0.5" />
<line x1="371.40" y1="71.52" x2="370.40" y2="71.52" stroke="#f4483c" stroke-width="0.4" />
<text x="373.90" y="63.85" font-size="4" fill="#f4483c" stroke="#f4483c" stroke-width="0.05" text-anchor="start" >1.2</text>
<line x1="371.40" y1="80.65" x2="369.70" y2="80.65" stroke="#f4483c" stroke-width="0.5" />
<line x1="371.40" y1="89.77" x2="370.40" y2="89.77" stroke="#f4483c" stroke-width="0.4" />
<text x="373.90" y="82.10" font-size="4" fill="#f4483c" stroke="#f4483c" stroke-width="0.05" text-anchor="start" >1.1</text>
<line x1="371.40" y1="98.90" x2="369.70" y2="98.90" stroke="#f4483c" stroke-width="0.5" />
<text x="373.90" y="100.35" font-size="4" fill="#f4483c" stroke="#f4483c" stroke-width="0.05" text-anchor="start" >1.0</text>
<text transform="translate(384.80 62.60) rotate(-90)" font-size="4.75" fill="#f4483c" stroke="#f4483c" stroke-width="0.05" text-anchor="middle" >Energy barrier (Kcal/mol)</text>
<line x1="267.40" y1="107.80" x2="267.40" y2="106.20" stroke="#8c8c8c" stroke-width="0.5" />
<text x="267.40" y="113.00" font-size="4.3" fill="#222" stroke="#222" stroke-width="0.14" text-anchor="middle" >Mg<tspan dy="-1.3" font-size="3">2+</tspan></text>
<line x1="286.80" y1="107.80" x2="286.80" y2="106.20" stroke="#8c8c8c" stroke-width="0.5" />
<text x="286.80" y="113.00" font-size="4.3" fill="#222" stroke="#222" stroke-width="0.14" text-anchor="middle" >Ca<tspan dy="-1.3" font-size="3">2+</tspan></text>
<line x1="305.60" y1="107.80" x2="305.60" y2="106.20" stroke="#8c8c8c" stroke-width="0.5" />
<text x="305.60" y="113.00" font-size="4.3" fill="#222" stroke="#222" stroke-width="0.14" text-anchor="middle" >Li<tspan dy="-1.3" font-size="3">+</tspan></text>
<line x1="324.60" y1="107.80" x2="324.60" y2="106.20" stroke="#8c8c8c" stroke-width="0.5" />
<text x="324.60" y="113.00" font-size="4.3" fill="#222" stroke="#222" stroke-width="0.14" text-anchor="middle" >Na<tspan dy="-1.3" font-size="3">+</tspan></text>
<line x1="343.20" y1="107.80" x2="343.20" y2="106.20" stroke="#8c8c8c" stroke-width="0.5" />
<text x="343.20" y="113.00" font-size="4.3" fill="#222" stroke="#222" stroke-width="0.14" text-anchor="middle" >Cl<tspan dy="-1.3" font-size="3">-</tspan></text>
<line x1="362.20" y1="107.80" x2="362.20" y2="106.20" stroke="#8c8c8c" stroke-width="0.5" />
<text x="362.20" y="113.00" font-size="4.3" fill="#222" stroke="#222" stroke-width="0.14" text-anchor="middle" >K<tspan dy="-1.3" font-size="3">+</tspan></text>
<text x="320.50" y="124.00" font-size="6.85" fill="#111" stroke="#111" stroke-width="0.17" text-anchor="middle" >Effect mechanism of ion type</text>
<polyline fill="none" stroke="#8fb6f7" stroke-width="0.55" points="267.4,33.8 286.8,47.3 305.6,94.6 324.6,99.1 343.2,101.1 362.2,103"/>
<polyline fill="none" stroke="#f59a94" stroke-width="0.55" points="267.4,23.3 286.8,46.9 305.6,67.2 324.6,69.8 343.2,79.4 362.2,96.1"/>
<polygon points="265.70,35.10 269.10,35.10 267.40,32.10" fill="#1f5ff0"/>
<polygon points="285.10,48.60 288.50,48.60 286.80,45.60" fill="#1f5ff0"/>
<polygon points="303.90,95.90 307.30,95.90 305.60,92.90" fill="#1f5ff0"/>
<polygon points="322.90,100.40 326.30,100.40 324.60,97.40" fill="#1f5ff0"/>
<polygon points="341.50,102.40 344.90,102.40 343.20,99.40" fill="#1f5ff0"/>
<polygon points="360.50,104.30 363.90,104.30 362.20,101.30" fill="#1f5ff0"/>
<circle cx="267.4" cy="23.3" r="1.65" fill="#f0201a"/>
<circle cx="286.8" cy="46.9" r="1.65" fill="#f0201a"/>
<circle cx="305.6" cy="67.2" r="1.65" fill="#f0201a"/>
<circle cx="324.6" cy="69.8" r="1.65" fill="#f0201a"/>
<circle cx="343.2" cy="79.4" r="1.65" fill="#f0201a"/>
<circle cx="362.2" cy="96.1" r="1.65" fill="#f0201a"/>
<polygon points="287.4,22.3 346.3,22.3 348.8,25.6 341,34.4 278.3,33.2" fill="url(#plate2)"/>
<polygon points="278.3,33.2 341,34.4 348.8,25.6 348.8,26.6 341,35.3 278.3,34.2" fill="#1e1e1e"/>
<clipPath id="domeclip"><path d="M301.5 29.6 A18.4 18.4 0 1 1 327.2 29.6 Z"/></clipPath>
<path d="M301.5 29.6 A18.4 18.4 0 1 1 327.2 29.6 Z" fill="url(#dome)" stroke="#3f6d96" stroke-width="0.5"/>
<g clip-path="url(#domeclip)">
<rect x="294" y="21.2" width="40" height="2" fill="#e4ecf0" opacity="0.6"/><rect x="294" y="23.2" width="40" height="7" fill="#cfd6dc" opacity="0.38"/>
<circle cx="311.3" cy="18.3" r="0.37" fill="#e8d03a" opacity="0.9"/>
<circle cx="304.3" cy="10.1" r="0.58" fill="#e8d03a" opacity="0.9"/>
<circle cx="315.4" cy="17.3" r="0.37" fill="#3a58d8" opacity="0.9"/>
<circle cx="323.6" cy="18.4" r="0.38" fill="#e0c830" opacity="0.9"/>
<circle cx="316.6" cy="25.7" r="0.49" fill="#e8d03a" opacity="0.9"/>
<circle cx="300.9" cy="22.6" r="0.49" fill="#e8d03a" opacity="0.9"/>
<circle cx="321.7" cy="20.6" r="0.38" fill="#e0c830" opacity="0.9"/>
<circle cx="308.8" cy="26.7" r="0.38" fill="#f0dc4a" opacity="0.9"/>
<circle cx="307.7" cy="9.2" r="0.49" fill="#e8d03a" opacity="0.9"/>
<circle cx="318.1" cy="14.0" r="0.47" fill="#f0dc4a" opacity="0.9"/>
<circle cx="299.6" cy="9.4" r="0.50" fill="#3a58d8" opacity="0.9"/>
<circle cx="305.4" cy="15.1" r="0.52" fill="#f0dc4a" opacity="0.9"/>
<circle cx="314.8" cy="25.3" r="0.47" fill="#e0c830" opacity="0.9"/>
<circle cx="308.0" cy="21.9" r="0.60" fill="#e0c830" opacity="0.9"/>
<circle cx="322.4" cy="19.8" r="0.39" fill="#2848c8" opacity="0.9"/>
<circle cx="310.9" cy="12.6" r="0.54" fill="#e8d03a" opacity="0.9"/>
<circle cx="300.0" cy="5.4" r="0.44" fill="#2848c8" opacity="0.9"/>
<circle cx="307.2" cy="22.1" r="0.37" fill="#3a58d8" opacity="0.9"/>
<circle cx="321.6" cy="17.3" r="0.37" fill="#e8d03a" opacity="0.9"/>
<circle cx="310.2" cy="-0.6" r="0.42" fill="#3a58d8" opacity="0.9"/>
<circle cx="303.8" cy="21.5" r="0.59" fill="#e8d03a" opacity="0.9"/>
<circle cx="306.1" cy="22.9" r="0.36" fill="#3a58d8" opacity="0.9"/>
<circle cx="315.0" cy="6.3" r="0.45" fill="#f0dc4a" opacity="0.9"/>
<circle cx="324.7" cy="6.4" r="0.46" fill="#f0dc4a" opacity="0.9"/>
<circle cx="299.1" cy="7.5" r="0.57" fill="#3a58d8" opacity="0.9"/>
<circle cx="312.4" cy="23.2" r="0.52" fill="#2848c8" opacity="0.9"/>
<circle cx="308.3" cy="18.0" r="0.39" fill="#e8d03a" opacity="0.9"/>
<circle cx="315.2" cy="20.6" r="0.56" fill="#3a58d8" opacity="0.9"/>
<circle cx="318.0" cy="20.6" r="0.45" fill="#f0dc4a" opacity="0.9"/>
<circle cx="305.6" cy="21.8" r="0.52" fill="#f0dc4a" opacity="0.9"/>
<circle cx="301.0" cy="11.1" r="0.46" fill="#e8d03a" opacity="0.9"/>
<circle cx="325.7" cy="0.4" r="0.45" fill="#e0c830" opacity="0.9"/>
<circle cx="309.9" cy="15.6" r="0.37" fill="#3a58d8" opacity="0.9"/>
<circle cx="321.4" cy="15.6" r="0.38" fill="#f0dc4a" opacity="0.9"/>
<circle cx="309.9" cy="9.2" r="0.39" fill="#e0c830" opacity="0.9"/>
<circle cx="322.5" cy="18.5" r="0.37" fill="#e8d03a" opacity="0.9"/>
<circle cx="317.0" cy="22.5" r="0.59" fill="#2848c8" opacity="0.9"/>
<circle cx="304.9" cy="5.4" r="0.56" fill="#e8d03a" opacity="0.9"/>
<circle cx="325.9" cy="11.9" r="0.43" fill="#3a58d8" opacity="0.9"/>
<circle cx="323.4" cy="24.0" r="0.47" fill="#2848c8" opacity="0.9"/>
<circle cx="310.0" cy="1.0" r="0.59" fill="#f0dc4a" opacity="0.9"/>
<circle cx="307.9" cy="11.3" r="0.58" fill="#e0c830" opacity="0.9"/>
<circle cx="314.8" cy="3.1" r="0.52" fill="#e8d03a" opacity="0.9"/>
<circle cx="313.6" cy="22.7" r="0.44" fill="#f0dc4a" opacity="0.9"/>
<circle cx="316.4" cy="24.7" r="0.43" fill="#e0c830" opacity="0.9"/>
<circle cx="316.9" cy="27.5" r="0.55" fill="#f0dc4a" opacity="0.9"/>
<circle cx="320.4" cy="-0.9" r="0.40" fill="#f0dc4a" opacity="0.9"/>
<circle cx="299.8" cy="13.1" r="0.55" fill="#e8d03a" opacity="0.9"/>
<circle cx="306.9" cy="13.7" r="0.59" fill="#e0c830" opacity="0.9"/>
<circle cx="298.7" cy="17.8" r="0.59" fill="#2848c8" opacity="0.9"/>
<circle cx="309.0" cy="18.4" r="0.47" fill="#f0dc4a" opacity="0.9"/>
<circle cx="308.1" cy="22.5" r="0.56" fill="#e0c830" opacity="0.9"/>
<circle cx="300.7" cy="14.2" r="0.56" fill="#e8d03a" opacity="0.9"/>
<circle cx="322.0" cy="19.6" r="0.47" fill="#f0dc4a" opacity="0.9"/>
<circle cx="320.9" cy="26.0" r="0.37" fill="#2848c8" opacity="0.9"/>
<circle cx="327.9" cy="7.6" r="0.45" fill="#3a58d8" opacity="0.9"/>
<circle cx="328.0" cy="7.7" r="0.60" fill="#f0dc4a" opacity="0.9"/>
<circle cx="327.2" cy="14.7" r="0.55" fill="#3a58d8" opacity="0.9"/>
<circle cx="323.7" cy="24.7" r="0.51" fill="#3a58d8" opacity="0.9"/>
<circle cx="306.9" cy="22.6" r="0.36" fill="#f0dc4a" opacity="0.9"/>
<circle cx="318.7" cy="-1.4" r="0.48" fill="#e8d03a" opacity="0.9"/>
<circle cx="324.5" cy="7.9" r="0.56" fill="#f0dc4a" opacity="0.9"/>
<circle cx="316.4" cy="20.7" r="0.48" fill="#2848c8" opacity="0.9"/>
<circle cx="315.1" cy="2.7" r="0.45" fill="#e0c830" opacity="0.9"/>
<circle cx="325.3" cy="24.3" r="0.57" fill="#2848c8" opacity="0.9"/>
<circle cx="306.3" cy="-0.7" r="0.46" fill="#e0c830" opacity="0.9"/>
<circle cx="324.8" cy="6.4" r="0.39" fill="#e0c830" opacity="0.9"/>
<circle cx="298.5" cy="11.3" r="0.50" fill="#f0dc4a" opacity="0.9"/>
<circle cx="315.4" cy="5.9" r="0.47" fill="#f0dc4a" opacity="0.9"/>
<circle cx="312.3" cy="-0.1" r="0.52" fill="#2848c8" opacity="0.9"/>
<circle cx="302.7" cy="10.1" r="0.57" fill="#e8d03a" opacity="0.9"/>
<circle cx="321.3" cy="15.0" r="0.54" fill="#e8d03a" opacity="0.9"/>
<circle cx="301.6" cy="11.8" r="0.46" fill="#e8d03a" opacity="0.9"/>
<circle cx="305.1" cy="4.5" r="0.40" fill="#e0c830" opacity="0.9"/>
<circle cx="312.2" cy="24.3" r="0.48" fill="#3a58d8" opacity="0.9"/>
<circle cx="314.5" cy="24.7" r="0.58" fill="#2848c8" opacity="0.9"/>
<circle cx="320.3" cy="7.6" r="0.38" fill="#3a58d8" opacity="0.9"/>
<circle cx="322.5" cy="20.2" r="0.52" fill="#e8d03a" opacity="0.9"/>
<circle cx="307.2" cy="15.8" r="0.55" fill="#2848c8" opacity="0.9"/>
<circle cx="319.6" cy="8.4" r="0.39" fill="#2848c8" opacity="0.9"/>
<circle cx="326.7" cy="1.2" r="0.54" fill="#f0dc4a" opacity="0.9"/>
<circle cx="327.6" cy="21.3" r="0.60" fill="#f0dc4a" opacity="0.9"/>
<circle cx="317.7" cy="6.5" r="0.60" fill="#3a58d8" opacity="0.9"/>
<circle cx="305.2" cy="18.7" r="0.43" fill="#2848c8" opacity="0.9"/>
<circle cx="313.9" cy="10.1" r="0.46" fill="#e0c830" opacity="0.9"/>
<circle cx="311.2" cy="2.3" r="0.51" fill="#e0c830" opacity="0.9"/>
<circle cx="310.0" cy="12.1" r="0.59" fill="#f0dc4a" opacity="0.9"/>
<circle cx="321.2" cy="17.8" r="0.58" fill="#e8d03a" opacity="0.9"/>
<circle cx="320.5" cy="25.8" r="0.56" fill="#3a58d8" opacity="0.9"/>
<circle cx="306.9" cy="-2.4" r="0.39" fill="#3a58d8" opacity="0.9"/>
<circle cx="325.5" cy="6.2" r="0.37" fill="#2848c8" opacity="0.9"/>
<circle cx="327.5" cy="17.4" r="0.57" fill="#3a58d8" opacity="0.9"/>
<circle cx="314.0" cy="14.6" r="0.55" fill="#e8d03a" opacity="0.9"/>
<circle cx="327.9" cy="20.3" r="0.42" fill="#e8d03a" opacity="0.9"/>
<circle cx="315.6" cy="13.7" r="0.45" fill="#e0c830" opacity="0.9"/>
<circle cx="325.9" cy="5.6" r="0.48" fill="#e8d03a" opacity="0.9"/>
<circle cx="314.7" cy="18.0" r="0.42" fill="#f0dc4a" opacity="0.9"/>
<circle cx="321.2" cy="27.3" r="0.48" fill="#2848c8" opacity="0.9"/>
<circle cx="317.4" cy="23.3" r="0.42" fill="#f0dc4a" opacity="0.9"/>
<circle cx="319.9" cy="-3.6" r="0.35" fill="#e8d03a" opacity="0.9"/>
<circle cx="313.0" cy="-0.1" r="0.48" fill="#f0dc4a" opacity="0.9"/>
<circle cx="314.6" cy="23.8" r="0.51" fill="#3a58d8" opacity="0.9"/>
<circle cx="298.9" cy="7.8" r="0.43" fill="#e0c830" opacity="0.9"/>
<circle cx="316.1" cy="20.4" r="0.56" fill="#f0dc4a" opacity="0.9"/>
<circle cx="310.7" cy="-0.7" r="0.60" fill="#3a58d8" opacity="0.9"/>
<circle cx="329.8" cy="10.6" r="0.37" fill="#e8d03a" opacity="0.9"/>
<circle cx="313.8" cy="3.8" r="0.36" fill="#f0dc4a" opacity="0.9"/>
<circle cx="309.0" cy="3.4" r="0.52" fill="#e0c830" opacity="0.9"/>
<circle cx="312.6" cy="20.6" r="0.36" fill="#2848c8" opacity="0.9"/>
<circle cx="317.8" cy="20.5" r="0.42" fill="#e8d03a" opacity="0.9"/>
<circle cx="330.6" cy="8.4" r="0.43" fill="#e0c830" opacity="0.9"/>
<circle cx="329.9" cy="15.8" r="0.44" fill="#f0dc4a" opacity="0.9"/>
<circle cx="324.8" cy="12.5" r="0.42" fill="#3a58d8" opacity="0.9"/>
<circle cx="309.6" cy="5.4" r="0.37" fill="#e8d03a" opacity="0.9"/>
<circle cx="316.9" cy="6.5" r="0.36" fill="#e0c830" opacity="0.9"/>
<circle cx="323.6" cy="13.7" r="0.37" fill="#f0dc4a" opacity="0.9"/>
<circle cx="329.5" cy="8.3" r="0.51" fill="#f0dc4a" opacity="0.9"/>
<circle cx="310.9" cy="-3.2" r="0.54" fill="#3a58d8" opacity="0.9"/>
<circle cx="312.1" cy="0.7" r="0.53" fill="#2848c8" opacity="0.9"/>
<circle cx="312.1" cy="9.6" r="0.51" fill="#e0c830" opacity="0.9"/>
<circle cx="312.7" cy="-2.8" r="0.58" fill="#f0dc4a" opacity="0.9"/>
<circle cx="314.5" cy="-0.4" r="0.56" fill="#e8d03a" opacity="0.9"/>
<circle cx="300.4" cy="4.3" r="0.37" fill="#f0dc4a" opacity="0.9"/>
<circle cx="327.4" cy="15.9" r="0.44" fill="#e8d03a" opacity="0.9"/>
<circle cx="310.6" cy="13.6" r="0.51" fill="#e8d03a" opacity="0.9"/>
<circle cx="309.3" cy="1.6" r="0.46" fill="#e8d03a" opacity="0.9"/>
<circle cx="329.1" cy="19.4" r="0.37" fill="#e0c830" opacity="0.9"/>
<circle cx="299.8" cy="10.0" r="0.41" fill="#3a58d8" opacity="0.9"/>
<circle cx="322.1" cy="16.4" r="0.41" fill="#f0dc4a" opacity="0.9"/>
<circle cx="307.5" cy="3.1" r="0.37" fill="#3a58d8" opacity="0.9"/>
<circle cx="322.0" cy="7.5" r="0.50" fill="#e8d03a" opacity="0.9"/>
<circle cx="311.3" cy="8.7" r="0.43" fill="#f0dc4a" opacity="0.9"/>
<circle cx="306.1" cy="0.9" r="0.49" fill="#e0c830" opacity="0.9"/>
<circle cx="318.5" cy="12.7" r="0.59" fill="#2848c8" opacity="0.9"/>
<circle cx="320.7" cy="17.0" r="0.42" fill="#3a58d8" opacity="0.9"/>
<circle cx="302.8" cy="11.2" r="0.54" fill="#3a58d8" opacity="0.9"/>
<circle cx="326.9" cy="11.9" r="0.59" fill="#2848c8" opacity="0.9"/>
<circle cx="316.4" cy="11.5" r="0.37" fill="#3a58d8" opacity="0.9"/>
<circle cx="297.4" cy="11.7" r="0.45" fill="#2848c8" opacity="0.9"/>
<circle cx="328.5" cy="4.2" r="0.50" fill="#e8d03a" opacity="0.9"/>
<circle cx="322.0" cy="22.0" r="0.38" fill="#2848c8" opacity="0.9"/>
<circle cx="319.5" cy="1.4" r="0.53" fill="#e8d03a" opacity="0.9"/>
<circle cx="316.2" cy="28.4" r="0.45" fill="#3a58d8" opacity="0.9"/>
<circle cx="323.3" cy="26.3" r="0.45" fill="#3a58d8" opacity="0.9"/>
<circle cx="312.7" cy="1.5" r="0.43" fill="#3a58d8" opacity="0.9"/>
<circle cx="314.7" cy="11.8" r="0.56" fill="#2848c8" opacity="0.9"/>
<circle cx="326.2" cy="23.6" r="0.58" fill="#e8d03a" opacity="0.9"/>
<circle cx="311.7" cy="22.4" r="0.45" fill="#3a58d8" opacity="0.9"/>
<circle cx="317.5" cy="9.0" r="0.54" fill="#3a58d8" opacity="0.9"/>
<circle cx="319.8" cy="5.3" r="0.56" fill="#e8d03a" opacity="0.9"/>
</g>
<text x="313.40" y="19.30" font-size="4.2" fill="#e02020" stroke="#e02020" stroke-width="0.05" text-anchor="middle" font-weight="bold">Nucleus</text>
<path d="M308.6 28.2 c1.8 -2 4.2 -7.2 3 -7.8 c-1.2 -0.6 -2.2 5.4 0.6 7.8 M311.7 28.2 c1.8 -2 4.2 -7.2 3 -7.8 c-1.2 -0.6 -2.2 5.4 0.6 7.8 M314.8 28.2 c1.8 -2 4.2 -7.2 3 -7.8 c-1.2 -0.6 -2.2 5.4 0.6 7.8 M317.9 28.2 c1.8 -2 4.2 -7.2 3 -7.8 c-1.2 -0.6 -2.2 5.4 0.6 7.8 " fill="none" stroke="#e62222" stroke-width="0.85" stroke-linecap="round"/>
<rect x="319.8" y="36.4" width="49.2" height="20.3" fill="#c6f0fa"/>
<rect x="319.8" y="47.5" width="49.4" height="9.2" fill="#a8e0f4"/>
<circle cx="326.9" cy="56.4" r="0.6" fill="#d8b0b0" opacity="0.8"/>
<circle cx="325.4" cy="55.5" r="1.65" fill="url(#redball)"/>
<circle cx="331.7" cy="56.8" r="0.6" fill="#d8b0b0" opacity="0.8"/>
<circle cx="330.2" cy="55.9" r="1.65" fill="url(#redball)"/>
<circle cx="337.5" cy="56.199999999999996" r="0.6" fill="#d8b0b0" opacity="0.8"/>
<circle cx="336" cy="55.3" r="1.65" fill="url(#redball)"/>
<circle cx="343.1" cy="56.699999999999996" r="0.6" fill="#d8b0b0" opacity="0.8"/>
<circle cx="341.6" cy="55.8" r="1.65" fill="url(#redball)"/>
<circle cx="348.5" cy="56.3" r="0.6" fill="#d8b0b0" opacity="0.8"/>
<circle cx="347" cy="55.4" r="1.65" fill="url(#redball)"/>
<circle cx="354.0" cy="56.8" r="0.6" fill="#d8b0b0" opacity="0.8"/>
<circle cx="352.5" cy="55.9" r="1.65" fill="url(#redball)"/>
<circle cx="359.3" cy="56.3" r="0.6" fill="#d8b0b0" opacity="0.8"/>
<circle cx="357.8" cy="55.4" r="1.65" fill="url(#redball)"/>
<circle cx="364.1" cy="56.699999999999996" r="0.6" fill="#d8b0b0" opacity="0.8"/>
<circle cx="362.6" cy="55.8" r="1.65" fill="url(#redball)"/>
<circle cx="368.9" cy="56.3" r="0.6" fill="#d8b0b0" opacity="0.8"/>
<circle cx="367.4" cy="55.4" r="1.65" fill="url(#redball)"/>
<circle cx="323.5" cy="60.6" r="0.6" fill="#d8b0b0" opacity="0.8"/>
<circle cx="322" cy="59.7" r="1.65" fill="url(#redball)"/>
<circle cx="329.0" cy="60.9" r="0.6" fill="#d8b0b0" opacity="0.8"/>
<circle cx="327.5" cy="60" r="1.65" fill="url(#redball)"/>
<circle cx="335.0" cy="60.4" r="0.6" fill="#d8b0b0" opacity="0.8"/>
<circle cx="333.5" cy="59.5" r="1.65" fill="url(#redball)"/>
<circle cx="339.8" cy="60.8" r="0.6" fill="#d8b0b0" opacity="0.8"/>
<circle cx="338.3" cy="59.9" r="1.65" fill="url(#redball)"/>
<circle cx="345.5" cy="60.5" r="0.6" fill="#d8b0b0" opacity="0.8"/>
<circle cx="344" cy="59.6" r="1.65" fill="url(#redball)"/>
<circle cx="351.2" cy="60.4" r="0.6" fill="#d8b0b0" opacity="0.8"/>
<circle cx="349.7" cy="59.5" r="1.65" fill="url(#redball)"/>
<circle cx="356.6" cy="60.8" r="0.6" fill="#d8b0b0" opacity="0.8"/>
<circle cx="355.1" cy="59.9" r="1.65" fill="url(#redball)"/>
<circle cx="362.3" cy="60.5" r="0.6" fill="#d8b0b0" opacity="0.8"/>
<circle cx="360.8" cy="59.6" r="1.65" fill="url(#redball)"/>
<circle cx="368.1" cy="60.5" r="0.6" fill="#d8b0b0" opacity="0.8"/>
<circle cx="366.6" cy="59.6" r="1.65" fill="url(#redball)"/>
<circle cx="326.3" cy="64.9" r="0.6" fill="#d8b0b0" opacity="0.8"/>
<circle cx="324.8" cy="64" r="1.65" fill="url(#redball)"/>
<circle cx="332.3" cy="65.2" r="0.6" fill="#d8b0b0" opacity="0.8"/>
<circle cx="330.8" cy="64.3" r="1.65" fill="url(#redball)"/>
<circle cx="338.0" cy="64.9" r="0.6" fill="#d8b0b0" opacity="0.8"/>
<circle cx="336.5" cy="64" r="1.65" fill="url(#redball)"/>
<circle cx="343.8" cy="65.10000000000001" r="0.6" fill="#d8b0b0" opacity="0.8"/>
<circle cx="342.3" cy="64.2" r="1.65" fill="url(#redball)"/>
<circle cx="349.2" cy="64.8" r="0.6" fill="#d8b0b0" opacity="0.8"/>
<circle cx="347.7" cy="63.9" r="1.65" fill="url(#redball)"/>
<circle cx="354.3" cy="65.2" r="0.6" fill="#d8b0b0" opacity="0.8"/>
<circle cx="352.8" cy="64.3" r="1.65" fill="url(#redball)"/>
<circle cx="359.3" cy="64.9" r="0.6" fill="#d8b0b0" opacity="0.8"/>
<circle cx="357.8" cy="64" r="1.65" fill="url(#redball)"/>
<circle cx="364.7" cy="65.10000000000001" r="0.6" fill="#d8b0b0" opacity="0.8"/>
<circle cx="363.2" cy="64.2" r="1.65" fill="url(#redball)"/>
<rect x="320.2" y="47.5" width="48.4" height="8.1" fill="none" stroke="#111" stroke-width="0.6" stroke-dasharray="1.1 0.8"/>
<circle cx="328.5" cy="50.9" r="2.2" fill="url(#greenball)"/>
<circle cx="361.4" cy="50.6" r="2.2" fill="url(#blueball)"/>
<path d="M328.5 48.8 V43" stroke="#dcb820" stroke-width="1.1"/><polygon points="327,43.6 330,43.6 328.5,40.8" fill="#dcb820"/>
<path d="M361.4 48.6 V43" stroke="#4444d8" stroke-width="1.1"/><polygon points="359.9,43.6 362.9,43.6 361.4,40.8" fill="#4444d8"/>
<text x="346.00" y="51.70" font-size="3.5" fill="#1a2a9a" stroke="#1a2a9a" stroke-width="0.05" text-anchor="middle" font-weight="bold">Solid-liquid</text>
<text x="346.30" y="55.60" font-size="3.3" fill="#1a2a9a" stroke="#1a2a9a" stroke-width="0.05" text-anchor="middle" font-weight="bold">interface</text>
<line x1="334.2" y1="73.6" x2="339.8" y2="69.4" stroke="#e82020" stroke-width="0.7"/><polygon points="341.6,68 338.4,69 340,71" fill="#e82020"/>
<line x1="299.6" y1="81.6" x2="291.6" y2="85.4" stroke="#1f5ff0" stroke-width="0.8"/><polygon points="289.4,86.4 292.6,83.6 293.4,86.2" fill="#1f5ff0"/>
<line x1="277.4" y1="76.6" x2="274.7" y2="73.9" stroke="#999" stroke-width="0.5"/>
<circle cx="274.7" cy="73.9" r="1.15" fill="#f4f4f4" stroke="#9a9a9a" stroke-width="0.35"/>
<line x1="277.4" y1="76.6" x2="279.7" y2="73.5" stroke="#999" stroke-width="0.5"/>
<circle cx="279.7" cy="73.5" r="1.15" fill="#f4f4f4" stroke="#9a9a9a" stroke-width="0.35"/>
<circle cx="277.4" cy="76.6" r="2.7" fill="url(#redball)"/>
<circle cx="277.09999999999997" cy="76.19999999999999" r="1.25" fill="#fff" opacity="0.85"/>
<line x1="286.3" y1="80.6" x2="287.1" y2="76.9" stroke="#999" stroke-width="0.5"/>
<circle cx="287.1" cy="76.9" r="1.15" fill="#f4f4f4" stroke="#9a9a9a" stroke-width="0.35"/>
<line x1="286.3" y1="80.6" x2="290.1" y2="80.8" stroke="#999" stroke-width="0.5"/>
<circle cx="290.1" cy="80.8" r="1.15" fill="#f4f4f4" stroke="#9a9a9a" stroke-width="0.35"/>
<circle cx="286.3" cy="80.6" r="2.7" fill="url(#redball)"/>
<circle cx="286.0" cy="80.19999999999999" r="1.25" fill="#fff" opacity="0.85"/>
<line x1="286.7" y1="92.3" x2="290.5" y2="91.7" stroke="#999" stroke-width="0.5"/>
<circle cx="290.5" cy="91.7" r="1.15" fill="#f4f4f4" stroke="#9a9a9a" stroke-width="0.35"/>
<line x1="286.7" y1="92.3" x2="287.8" y2="96.0" stroke="#999" stroke-width="0.5"/>
<circle cx="287.8" cy="96.0" r="1.15" fill="#f4f4f4" stroke="#9a9a9a" stroke-width="0.35"/>
<circle cx="286.7" cy="92.3" r="2.7" fill="url(#redball)"/>
<circle cx="286.4" cy="91.89999999999999" r="1.25" fill="#fff" opacity="0.85"/>
<line x1="277.7" y1="97.3" x2="280.1" y2="100.3" stroke="#999" stroke-width="0.5"/>
<circle cx="280.1" cy="100.3" r="1.15" fill="#f4f4f4" stroke="#9a9a9a" stroke-width="0.35"/>
<line x1="277.7" y1="97.3" x2="275.1" y2="100.1" stroke="#999" stroke-width="0.5"/>
<circle cx="275.1" cy="100.1" r="1.15" fill="#f4f4f4" stroke="#9a9a9a" stroke-width="0.35"/>
<circle cx="277.7" cy="97.3" r="2.7" fill="url(#redball)"/>
<circle cx="277.4" cy="96.89999999999999" r="1.25" fill="#fff" opacity="0.85"/>
<line x1="268.9" y1="91.8" x2="267.5" y2="95.4" stroke="#999" stroke-width="0.5"/>
<circle cx="267.5" cy="95.4" r="1.15" fill="#f4f4f4" stroke="#9a9a9a" stroke-width="0.35"/>
<line x1="268.9" y1="91.8" x2="265.2" y2="91.0" stroke="#999" stroke-width="0.5"/>
<circle cx="265.2" cy="91.0" r="1.15" fill="#f4f4f4" stroke="#9a9a9a" stroke-width="0.35"/>
<circle cx="268.9" cy="91.8" r="2.7" fill="url(#redball)"/>
<circle cx="268.59999999999997" cy="91.39999999999999" r="1.25" fill="#fff" opacity="0.85"/>
<line x1="268.9" y1="82.0" x2="265.2" y2="82.8" stroke="#999" stroke-width="0.5"/>
<circle cx="265.2" cy="82.8" r="1.15" fill="#f4f4f4" stroke="#9a9a9a" stroke-width="0.35"/>
<line x1="268.9" y1="82.0" x2="267.5" y2="78.4" stroke="#999" stroke-width="0.5"/>
<circle cx="267.5" cy="78.4" r="1.15" fill="#f4f4f4" stroke="#9a9a9a" stroke-width="0.35"/>
<circle cx="268.9" cy="82" r="2.7" fill="url(#redball)"/>
<circle cx="268.59999999999997" cy="81.6" r="1.25" fill="#fff" opacity="0.85"/>
<circle cx="278.1" cy="86.9" r="3.3" fill="#d8d8d8" stroke="#333" stroke-width="0.9"/>
<text x="278.10" y="87.90" font-size="2.8" fill="#222" stroke="#222" stroke-width="0.14" text-anchor="middle" >Mg</text>
<rect x="83.1" y="149.2" width="113.30000000000001" height="90.4" fill="none" stroke="#737373" stroke-width="0.85"/>
<line x1="83.10" y1="149.20" x2="84.70" y2="149.20" stroke="#555" stroke-width="0.5" />
<text x="80.90" y="150.70" font-size="4.3" fill="#222" stroke="#222" stroke-width="0.14" text-anchor="end" >-17</text>
<line x1="83.10" y1="155.22" x2="84.00" y2="155.22" stroke="#555" stroke-width="0.4" />
<line x1="83.10" y1="161.25" x2="84.70" y2="161.25" stroke="#555" stroke-width="0.5" />
<text x="80.90" y="162.75" font-size="4.3" fill="#222" stroke="#222" stroke-width="0.14" text-anchor="end" >-16</text>
<line x1="83.10" y1="167.27" x2="84.00" y2="167.27" stroke="#555" stroke-width="0.4" />
<line x1="83.10" y1="173.30" x2="84.70" y2="173.30" stroke="#555" stroke-width="0.5" />
<text x="80.90" y="174.80" font-size="4.3" fill="#222" stroke="#222" stroke-width="0.14" text-anchor="end" >-15</text>
<line x1="83.10" y1="179.32" x2="84.00" y2="179.32" stroke="#555" stroke-width="0.4" />
<line x1="83.10" y1="185.35" x2="84.70" y2="185.35" stroke="#555" stroke-width="0.5" />
<text x="80.90" y="186.85" font-size="4.3" fill="#222" stroke="#222" stroke-width="0.14" text-anchor="end" >-14</text>
<line x1="83.10" y1="191.37" x2="84.00" y2="191.37" stroke="#555" stroke-width="0.4" />
<line x1="83.10" y1="197.40" x2="84.70" y2="197.40" stroke="#555" stroke-width="0.5" />
<text x="80.90" y="198.90" font-size="4.3" fill="#222" stroke="#222" stroke-width="0.14" text-anchor="end" >-13</text>
<line x1="83.10" y1="203.42" x2="84.00" y2="203.42" stroke="#555" stroke-width="0.4" />
<line x1="83.10" y1="209.45" x2="84.70" y2="209.45" stroke="#555" stroke-width="0.5" />
<text x="80.90" y="210.95" font-size="4.3" fill="#222" stroke="#222" stroke-width="0.14" text-anchor="end" >-12</text>
<line x1="83.10" y1="215.47" x2="84.00" y2="215.47" stroke="#555" stroke-width="0.4" />
<line x1="83.10" y1="221.50" x2="84.70" y2="221.50" stroke="#555" stroke-width="0.5" />
<text x="80.90" y="223.00" font-size="4.3" fill="#222" stroke="#222" stroke-width="0.14" text-anchor="end" >-11</text>
<line x1="83.10" y1="227.52" x2="84.00" y2="227.52" stroke="#555" stroke-width="0.4" />
<line x1="83.10" y1="233.55" x2="84.70" y2="233.55" stroke="#555" stroke-width="0.5" />
<text x="80.90" y="235.05" font-size="4.3" fill="#222" stroke="#222" stroke-width="0.14" text-anchor="end" >-10</text>
<line x1="83.10" y1="239.57" x2="84.00" y2="239.57" stroke="#555" stroke-width="0.4" />
<line x1="89.00" y1="239.60" x2="89.00" y2="238.00" stroke="#555" stroke-width="0.5" />
<text x="89.00" y="245.50" font-size="4.3" fill="#222" stroke="#222" stroke-width="0.14" text-anchor="middle" >0</text>
<line x1="102.45" y1="239.60" x2="102.45" y2="238.00" stroke="#555" stroke-width="0.5" />
<text x="102.45" y="245.50" font-size="4.3" fill="#222" stroke="#222" stroke-width="0.14" text-anchor="middle" >5</text>
<line x1="115.90" y1="239.60" x2="115.90" y2="238.00" stroke="#555" stroke-width="0.5" />
<text x="115.90" y="245.50" font-size="4.3" fill="#222" stroke="#222" stroke-width="0.14" text-anchor="middle" >10</text>
<line x1="129.35" y1="239.60" x2="129.35" y2="238.00" stroke="#555" stroke-width="0.5" />
<text x="129.35" y="245.50" font-size="4.3" fill="#222" stroke="#222" stroke-width="0.14" text-anchor="middle" >15</text>
<line x1="142.80" y1="239.60" x2="142.80" y2="238.00" stroke="#555" stroke-width="0.5" />
<text x="142.80" y="245.50" font-size="4.3" fill="#222" stroke="#222" stroke-width="0.14" text-anchor="middle" >20</text>
<line x1="156.25" y1="239.60" x2="156.25" y2="238.00" stroke="#555" stroke-width="0.5" />
<text x="156.25" y="245.50" font-size="4.3" fill="#222" stroke="#222" stroke-width="0.14" text-anchor="middle" >25</text>
<line x1="169.70" y1="239.60" x2="169.70" y2="238.00" stroke="#555" stroke-width="0.5" />
<text x="169.70" y="245.50" font-size="4.3" fill="#222" stroke="#222" stroke-width="0.14" text-anchor="middle" >30</text>
<line x1="183.15" y1="239.60" x2="183.15" y2="238.00" stroke="#555" stroke-width="0.5" />
<text x="183.15" y="245.50" font-size="4.3" fill="#222" stroke="#222" stroke-width="0.14" text-anchor="middle" >35</text>
<line x1="196.60" y1="239.60" x2="196.60" y2="238.00" stroke="#555" stroke-width="0.5" />
<text x="196.60" y="245.50" font-size="4.3" fill="#222" stroke="#222" stroke-width="0.14" text-anchor="middle" >40</text>
<line x1="91.69" y1="239.60" x2="91.69" y2="238.70" stroke="#555" stroke-width="0.35" />
<line x1="94.38" y1="239.60" x2="94.38" y2="238.70" stroke="#555" stroke-width="0.35" />
<line x1="97.07" y1="239.60" x2="97.07" y2="238.70" stroke="#555" stroke-width="0.35" />
<line x1="99.76" y1="239.60" x2="99.76" y2="238.70" stroke="#555" stroke-width="0.35" />
<line x1="105.14" y1="239.60" x2="105.14" y2="238.70" stroke="#555" stroke-width="0.35" />
<line x1="107.83" y1="239.60" x2="107.83" y2="238.70" stroke="#555" stroke-width="0.35" />
<line x1="110.52" y1="239.60" x2="110.52" y2="238.70" stroke="#555" stroke-width="0.35" />
<line x1="113.21" y1="239.60" x2="113.21" y2="238.70" stroke="#555" stroke-width="0.35" />
<line x1="118.59" y1="239.60" x2="118.59" y2="238.70" stroke="#555" stroke-width="0.35" />
<line x1="121.28" y1="239.60" x2="121.28" y2="238.70" stroke="#555" stroke-width="0.35" />
<line x1="123.97" y1="239.60" x2="123.97" y2="238.70" stroke="#555" stroke-width="0.35" />
<line x1="126.66" y1="239.60" x2="126.66" y2="238.70" stroke="#555" stroke-width="0.35" />
<line x1="132.04" y1="239.60" x2="132.04" y2="238.70" stroke="#555" stroke-width="0.35" />
<line x1="134.73" y1="239.60" x2="134.73" y2="238.70" stroke="#555" stroke-width="0.35" />
<line x1="137.42" y1="239.60" x2="137.42" y2="238.70" stroke="#555" stroke-width="0.35" />
<line x1="140.11" y1="239.60" x2="140.11" y2="238.70" stroke="#555" stroke-width="0.35" />
<line x1="145.49" y1="239.60" x2="145.49" y2="238.70" stroke="#555" stroke-width="0.35" />
<line x1="148.18" y1="239.60" x2="148.18" y2="238.70" stroke="#555" stroke-width="0.35" />
<line x1="150.87" y1="239.60" x2="150.87" y2="238.70" stroke="#555" stroke-width="0.35" />
<line x1="153.56" y1="239.60" x2="153.56" y2="238.70" stroke="#555" stroke-width="0.35" />
<line x1="158.94" y1="239.60" x2="158.94" y2="238.70" stroke="#555" stroke-width="0.35" />
<line x1="161.63" y1="239.60" x2="161.63" y2="238.70" stroke="#555" stroke-width="0.35" />
<line x1="164.32" y1="239.60" x2="164.32" y2="238.70" stroke="#555" stroke-width="0.35" />
<line x1="167.01" y1="239.60" x2="167.01" y2="238.70" stroke="#555" stroke-width="0.35" />
<line x1="172.39" y1="239.60" x2="172.39" y2="238.70" stroke="#555" stroke-width="0.35" />
<line x1="175.08" y1="239.60" x2="175.08" y2="238.70" stroke="#555" stroke-width="0.35" />
<line x1="177.77" y1="239.60" x2="177.77" y2="238.70" stroke="#555" stroke-width="0.35" />
<line x1="180.46" y1="239.60" x2="180.46" y2="238.70" stroke="#555" stroke-width="0.35" />
<line x1="185.84" y1="239.60" x2="185.84" y2="238.70" stroke="#555" stroke-width="0.35" />
<line x1="188.53" y1="239.60" x2="188.53" y2="238.70" stroke="#555" stroke-width="0.35" />
<line x1="191.22" y1="239.60" x2="191.22" y2="238.70" stroke="#555" stroke-width="0.35" />
<line x1="193.91" y1="239.60" x2="193.91" y2="238.70" stroke="#555" stroke-width="0.35" />
<text transform="translate(71.90 194.60) rotate(-90)" font-size="4.3" fill="#222" stroke="#222" stroke-width="0.14" text-anchor="middle" ><tspan font-style="italic">T</tspan><tspan font-size="3" dy="0.8">n</tspan><tspan dy="-0.8"> (°C)</tspan></text>
<text x="138.90" y="251.30" font-size="4.4" fill="#222" stroke="#222" stroke-width="0.14" text-anchor="middle" ><tspan font-style="italic">N</tspan><tspan font-size="3" dy="0.8">x</tspan></text>
<polyline fill="none" stroke="#b9d0f6" stroke-width="0.5" stroke-dasharray="0.7 0.6" points="91.7,202 94.4,201.7 97.1,200 99.8,204.3 102.5,211.5 105.1,212 107.8,199 110.5,189.3 113.2,200 115.9,202.1 118.6,224.3 121.3,216.7 124.0,200 126.7,184.3 129.3,184.3 132.0,204.3 134.7,207.1 137.4,211.4 140.1,200 142.8,186.4 145.5,181 148.2,187.4 150.9,193.6 153.6,209.7 156.2,201.1 158.9,184.3 161.6,175.3 164.3,180.4 167.0,188.9 169.7,202.9 172.4,200.5 175.1,185.4 177.8,197.1 180.5,185.4 183.1,193.1 185.8,201.4"/>
<polyline fill="none" stroke="#f6c4c0" stroke-width="0.5" stroke-dasharray="0.7 0.6" points="91.7,205.4 94.4,194.3 97.1,191.7 99.8,191.4 102.5,205.5 105.1,192.6 107.8,199.3 110.5,197.9 113.2,189.3 115.9,177.4 118.6,172.6 121.3,201.7 124.0,223.1 126.7,213.1 129.3,191.1 132.0,166 134.7,166.4 137.4,198.3 140.1,208.3 142.8,205.4 145.5,191.7 148.2,165 150.9,164 153.6,198.9 156.2,198.3 158.9,191.4 161.6,180.7 164.3,182.9 167.0,177.6 169.7,198.3 172.4,199.7 175.1,206 177.8,200.7 180.5,207.9 183.1,206 185.8,207.9"/>
<polyline fill="none" stroke="#fadc92" stroke-width="0.5" stroke-dasharray="0.7 0.6" points="91.7,159.3 94.4,215.7 97.1,220.3 99.8,212.9 102.5,211.1 105.1,211.7 107.8,222 110.5,186.4 113.2,182.1 115.9,185 118.6,181.5 121.3,199.3 124.0,216 126.7,187.9 129.3,223.9 132.0,180.7 134.7,185.7 137.4,213.8 140.1,217.1 142.8,181.7 145.5,166 148.2,160 150.9,190.3 153.6,220 156.2,214.6 158.9,202.1 161.6,190.7 164.3,196 167.0,210 169.7,213.1 172.4,224.3 175.1,229.1 177.8,216.3 180.5,175 183.1,208.3 185.8,224.3"/>
<circle cx="91.7" cy="202.0" r="1.25" fill="#b9d0f8" stroke="#6496ec" stroke-width="0.5"/>
<polygon points="90.2,205.4 91.7,203.9 93.2,205.4 91.7,206.9" fill="#fde3e1" stroke="#f0645c" stroke-width="0.5"/>
<polygon points="90.2,160.4 93.2,160.4 91.7,157.7" fill="#fbdc98" stroke="#f7bc38" stroke-width="0.5"/>
<circle cx="94.4" cy="201.7" r="1.25" fill="#b9d0f8" stroke="#6496ec" stroke-width="0.5"/>
<polygon points="92.9,194.3 94.4,192.8 95.9,194.3 94.4,195.8" fill="#fde3e1" stroke="#f0645c" stroke-width="0.5"/>
<polygon points="92.9,216.8 95.9,216.8 94.4,214.1" fill="#fbdc98" stroke="#f7bc38" stroke-width="0.5"/>
<circle cx="97.1" cy="200.0" r="1.25" fill="#b9d0f8" stroke="#6496ec" stroke-width="0.5"/>
<polygon points="95.6,191.7 97.1,190.2 98.6,191.7 97.1,193.2" fill="#fde3e1" stroke="#f0645c" stroke-width="0.5"/>
<polygon points="95.6,221.4 98.6,221.4 97.1,218.7" fill="#fbdc98" stroke="#f7bc38" stroke-width="0.5"/>
<circle cx="99.8" cy="204.3" r="1.25" fill="#b9d0f8" stroke="#6496ec" stroke-width="0.5"/>
<polygon points="98.3,191.4 99.8,189.9 101.3,191.4 99.8,192.9" fill="#fde3e1" stroke="#f0645c" stroke-width="0.5"/>
<polygon points="98.3,214.0 101.3,214.0 99.8,211.3" fill="#fbdc98" stroke="#f7bc38" stroke-width="0.5"/>
<circle cx="102.5" cy="211.5" r="1.25" fill="#b9d0f8" stroke="#6496ec" stroke-width="0.5"/>
<polygon points="101.0,205.5 102.5,204.0 104.0,205.5 102.5,207.0" fill="#fde3e1" stroke="#f0645c" stroke-width="0.5"/>
<polygon points="101.0,212.2 104.0,212.2 102.5,209.5" fill="#fbdc98" stroke="#f7bc38" stroke-width="0.5"/>
<circle cx="105.1" cy="212.0" r="1.25" fill="#b9d0f8" stroke="#6496ec" stroke-width="0.5"/>
<polygon points="103.6,192.6 105.1,191.1 106.6,192.6 105.1,194.1" fill="#fde3e1" stroke="#f0645c" stroke-width="0.5"/>
<polygon points="103.6,212.8 106.6,212.8 105.1,210.1" fill="#fbdc98" stroke="#f7bc38" stroke-width="0.5"/>
<circle cx="107.8" cy="199.0" r="1.25" fill="#b9d0f8" stroke="#6496ec" stroke-width="0.5"/>
<polygon points="106.3,199.3 107.8,197.8 109.3,199.3 107.8,200.8" fill="#fde3e1" stroke="#f0645c" stroke-width="0.5"/>
<polygon points="106.3,223.1 109.3,223.1 107.8,220.4" fill="#fbdc98" stroke="#f7bc38" stroke-width="0.5"/>
<circle cx="110.5" cy="189.3" r="1.25" fill="#b9d0f8" stroke="#6496ec" stroke-width="0.5"/>
<polygon points="109.0,197.9 110.5,196.4 112.0,197.9 110.5,199.4" fill="#fde3e1" stroke="#f0645c" stroke-width="0.5"/>
<polygon points="109.0,187.5 112.0,187.5 110.5,184.8" fill="#fbdc98" stroke="#f7bc38" stroke-width="0.5"/>
<circle cx="113.2" cy="200.0" r="1.25" fill="#b9d0f8" stroke="#6496ec" stroke-width="0.5"/>
<polygon points="111.7,189.3 113.2,187.8 114.7,189.3 113.2,190.8" fill="#fde3e1" stroke="#f0645c" stroke-width="0.5"/>
<polygon points="111.7,183.2 114.7,183.2 113.2,180.5" fill="#fbdc98" stroke="#f7bc38" stroke-width="0.5"/>
<circle cx="115.9" cy="202.1" r="1.25" fill="#b9d0f8" stroke="#6496ec" stroke-width="0.5"/>
<polygon points="114.4,177.4 115.9,175.9 117.4,177.4 115.9,178.9" fill="#fde3e1" stroke="#f0645c" stroke-width="0.5"/>
<polygon points="114.4,186.1 117.4,186.1 115.9,183.4" fill="#fbdc98" stroke="#f7bc38" stroke-width="0.5"/>
<circle cx="118.6" cy="224.3" r="1.25" fill="#b9d0f8" stroke="#6496ec" stroke-width="0.5"/>
<polygon points="117.1,172.6 118.6,171.1 120.1,172.6 118.6,174.1" fill="#fde3e1" stroke="#f0645c" stroke-width="0.5"/>
<polygon points="117.1,182.6 120.1,182.6 118.6,179.9" fill="#fbdc98" stroke="#f7bc38" stroke-width="0.5"/>
<circle cx="121.3" cy="216.7" r="1.25" fill="#b9d0f8" stroke="#6496ec" stroke-width="0.5"/>
<polygon points="119.8,201.7 121.3,200.2 122.8,201.7 121.3,203.2" fill="#fde3e1" stroke="#f0645c" stroke-width="0.5"/>
<polygon points="119.8,200.4 122.8,200.4 121.3,197.7" fill="#fbdc98" stroke="#f7bc38" stroke-width="0.5"/>
<circle cx="124.0" cy="200.0" r="1.25" fill="#b9d0f8" stroke="#6496ec" stroke-width="0.5"/>
<polygon points="122.5,223.1 124.0,221.6 125.5,223.1 124.0,224.6" fill="#fde3e1" stroke="#f0645c" stroke-width="0.5"/>
<polygon points="122.5,217.1 125.5,217.1 124.0,214.4" fill="#fbdc98" stroke="#f7bc38" stroke-width="0.5"/>
<circle cx="126.7" cy="184.3" r="1.25" fill="#b9d0f8" stroke="#6496ec" stroke-width="0.5"/>
<polygon points="125.2,213.1 126.7,211.6 128.2,213.1 126.7,214.6" fill="#fde3e1" stroke="#f0645c" stroke-width="0.5"/>
<polygon points="125.2,189.0 128.2,189.0 126.7,186.3" fill="#fbdc98" stroke="#f7bc38" stroke-width="0.5"/>
<circle cx="129.3" cy="184.3" r="1.25" fill="#b9d0f8" stroke="#6496ec" stroke-width="0.5"/>
<polygon points="127.8,191.1 129.3,189.6 130.8,191.1 129.3,192.6" fill="#fde3e1" stroke="#f0645c" stroke-width="0.5"/>
<polygon points="127.8,225.0 130.8,225.0 129.3,222.3" fill="#fbdc98" stroke="#f7bc38" stroke-width="0.5"/>
<circle cx="132.0" cy="204.3" r="1.25" fill="#b9d0f8" stroke="#6496ec" stroke-width="0.5"/>
<polygon points="130.5,166.0 132.0,164.5 133.5,166.0 132.0,167.5" fill="#fde3e1" stroke="#f0645c" stroke-width="0.5"/>
<polygon points="130.5,181.8 133.5,181.8 132.0,179.1" fill="#fbdc98" stroke="#f7bc38" stroke-width="0.5"/>
<circle cx="134.7" cy="207.1" r="1.25" fill="#b9d0f8" stroke="#6496ec" stroke-width="0.5"/>
<polygon points="133.2,166.4 134.7,164.9 136.2,166.4 134.7,167.9" fill="#fde3e1" stroke="#f0645c" stroke-width="0.5"/>
<polygon points="133.2,186.8 136.2,186.8 134.7,184.1" fill="#fbdc98" stroke="#f7bc38" stroke-width="0.5"/>
<circle cx="137.4" cy="211.4" r="1.25" fill="#b9d0f8" stroke="#6496ec" stroke-width="0.5"/>
<polygon points="135.9,198.3 137.4,196.8 138.9,198.3 137.4,199.8" fill="#fde3e1" stroke="#f0645c" stroke-width="0.5"/>
<polygon points="135.9,214.9 138.9,214.9 137.4,212.2" fill="#fbdc98" stroke="#f7bc38" stroke-width="0.5"/>
<circle cx="140.1" cy="200.0" r="1.25" fill="#b9d0f8" stroke="#6496ec" stroke-width="0.5"/>
<polygon points="138.6,208.3 140.1,206.8 141.6,208.3 140.1,209.8" fill="#fde3e1" stroke="#f0645c" stroke-width="0.5"/>
<polygon points="138.6,218.2 141.6,218.2 140.1,215.5" fill="#fbdc98" stroke="#f7bc38" stroke-width="0.5"/>
<circle cx="142.8" cy="186.4" r="1.25" fill="#b9d0f8" stroke="#6496ec" stroke-width="0.5"/>
<polygon points="141.3,205.4 142.8,203.9 144.3,205.4 142.8,206.9" fill="#fde3e1" stroke="#f0645c" stroke-width="0.5"/>
<polygon points="141.3,182.8 144.3,182.8 142.8,180.1" fill="#fbdc98" stroke="#f7bc38" stroke-width="0.5"/>
<circle cx="145.5" cy="181.0" r="1.25" fill="#b9d0f8" stroke="#6496ec" stroke-width="0.5"/>
<polygon points="144.0,191.7 145.5,190.2 147.0,191.7 145.5,193.2" fill="#fde3e1" stroke="#f0645c" stroke-width="0.5"/>
<polygon points="144.0,167.1 147.0,167.1 145.5,164.4" fill="#fbdc98" stroke="#f7bc38" stroke-width="0.5"/>
<circle cx="148.2" cy="187.4" r="1.25" fill="#b9d0f8" stroke="#6496ec" stroke-width="0.5"/>
<polygon points="146.7,165.0 148.2,163.5 149.7,165.0 148.2,166.5" fill="#fde3e1" stroke="#f0645c" stroke-width="0.5"/>
<polygon points="146.7,161.1 149.7,161.1 148.2,158.4" fill="#fbdc98" stroke="#f7bc38" stroke-width="0.5"/>
<circle cx="150.9" cy="193.6" r="1.25" fill="#b9d0f8" stroke="#6496ec" stroke-width="0.5"/>
<polygon points="149.4,164.0 150.9,162.5 152.4,164.0 150.9,165.5" fill="#fde3e1" stroke="#f0645c" stroke-width="0.5"/>
<polygon points="149.4,191.4 152.4,191.4 150.9,188.7" fill="#fbdc98" stroke="#f7bc38" stroke-width="0.5"/>
<circle cx="153.6" cy="209.7" r="1.25" fill="#b9d0f8" stroke="#6496ec" stroke-width="0.5"/>
<polygon points="152.1,198.9 153.6,197.4 155.1,198.9 153.6,200.4" fill="#fde3e1" stroke="#f0645c" stroke-width="0.5"/>
<polygon points="152.1,221.1 155.1,221.1 153.6,218.4" fill="#fbdc98" stroke="#f7bc38" stroke-width="0.5"/>
<circle cx="156.2" cy="201.1" r="1.25" fill="#b9d0f8" stroke="#6496ec" stroke-width="0.5"/>
<polygon points="154.8,198.3 156.2,196.8 157.8,198.3 156.2,199.8" fill="#fde3e1" stroke="#f0645c" stroke-width="0.5"/>
<polygon points="154.8,215.7 157.8,215.7 156.2,213.0" fill="#fbdc98" stroke="#f7bc38" stroke-width="0.5"/>
<circle cx="158.9" cy="184.3" r="1.25" fill="#b9d0f8" stroke="#6496ec" stroke-width="0.5"/>
<polygon points="157.4,191.4 158.9,189.9 160.4,191.4 158.9,192.9" fill="#fde3e1" stroke="#f0645c" stroke-width="0.5"/>
<polygon points="157.4,203.2 160.4,203.2 158.9,200.5" fill="#fbdc98" stroke="#f7bc38" stroke-width="0.5"/>
<circle cx="161.6" cy="175.3" r="1.25" fill="#b9d0f8" stroke="#6496ec" stroke-width="0.5"/>
<polygon points="160.1,180.7 161.6,179.2 163.1,180.7 161.6,182.2" fill="#fde3e1" stroke="#f0645c" stroke-width="0.5"/>
<polygon points="160.1,191.8 163.1,191.8 161.6,189.1" fill="#fbdc98" stroke="#f7bc38" stroke-width="0.5"/>
<circle cx="164.3" cy="180.4" r="1.25" fill="#b9d0f8" stroke="#6496ec" stroke-width="0.5"/>
<polygon points="162.8,182.9 164.3,181.4 165.8,182.9 164.3,184.4" fill="#fde3e1" stroke="#f0645c" stroke-width="0.5"/>
<polygon points="162.8,197.1 165.8,197.1 164.3,194.4" fill="#fbdc98" stroke="#f7bc38" stroke-width="0.5"/>
<circle cx="167.0" cy="188.9" r="1.25" fill="#b9d0f8" stroke="#6496ec" stroke-width="0.5"/>
<polygon points="165.5,177.6 167.0,176.1 168.5,177.6 167.0,179.1" fill="#fde3e1" stroke="#f0645c" stroke-width="0.5"/>
<polygon points="165.5,211.1 168.5,211.1 167.0,208.4" fill="#fbdc98" stroke="#f7bc38" stroke-width="0.5"/>
<circle cx="169.7" cy="202.9" r="1.25" fill="#b9d0f8" stroke="#6496ec" stroke-width="0.5"/>
<polygon points="168.2,198.3 169.7,196.8 171.2,198.3 169.7,199.8" fill="#fde3e1" stroke="#f0645c" stroke-width="0.5"/>
<polygon points="168.2,214.2 171.2,214.2 169.7,211.5" fill="#fbdc98" stroke="#f7bc38" stroke-width="0.5"/>
<circle cx="172.4" cy="200.5" r="1.25" fill="#b9d0f8" stroke="#6496ec" stroke-width="0.5"/>
<polygon points="170.9,199.7 172.4,198.2 173.9,199.7 172.4,201.2" fill="#fde3e1" stroke="#f0645c" stroke-width="0.5"/>
<polygon points="170.9,225.4 173.9,225.4 172.4,222.7" fill="#fbdc98" stroke="#f7bc38" stroke-width="0.5"/>
<circle cx="175.1" cy="185.4" r="1.25" fill="#b9d0f8" stroke="#6496ec" stroke-width="0.5"/>
<polygon points="173.6,206.0 175.1,204.5 176.6,206.0 175.1,207.5" fill="#fde3e1" stroke="#f0645c" stroke-width="0.5"/>
<polygon points="173.6,230.2 176.6,230.2 175.1,227.5" fill="#fbdc98" stroke="#f7bc38" stroke-width="0.5"/>
<circle cx="177.8" cy="197.1" r="1.25" fill="#b9d0f8" stroke="#6496ec" stroke-width="0.5"/>
<polygon points="176.3,200.7 177.8,199.2 179.3,200.7 177.8,202.2" fill="#fde3e1" stroke="#f0645c" stroke-width="0.5"/>
<polygon points="176.3,217.4 179.3,217.4 177.8,214.7" fill="#fbdc98" stroke="#f7bc38" stroke-width="0.5"/>
<circle cx="180.5" cy="185.4" r="1.25" fill="#b9d0f8" stroke="#6496ec" stroke-width="0.5"/>
<polygon points="179.0,207.9 180.5,206.4 182.0,207.9 180.5,209.4" fill="#fde3e1" stroke="#f0645c" stroke-width="0.5"/>
<polygon points="179.0,176.1 182.0,176.1 180.5,173.4" fill="#fbdc98" stroke="#f7bc38" stroke-width="0.5"/>
<circle cx="183.1" cy="193.1" r="1.25" fill="#b9d0f8" stroke="#6496ec" stroke-width="0.5"/>
<polygon points="181.6,206.0 183.1,204.5 184.6,206.0 183.1,207.5" fill="#fde3e1" stroke="#f0645c" stroke-width="0.5"/>
<polygon points="181.6,209.4 184.6,209.4 183.1,206.7" fill="#fbdc98" stroke="#f7bc38" stroke-width="0.5"/>
<circle cx="185.8" cy="201.4" r="1.25" fill="#b9d0f8" stroke="#6496ec" stroke-width="0.5"/>
<polygon points="184.3,207.9 185.8,206.4 187.3,207.9 185.8,209.4" fill="#fde3e1" stroke="#f0645c" stroke-width="0.5"/>
<polygon points="184.3,225.4 187.3,225.4 185.8,222.7" fill="#fbdc98" stroke="#f7bc38" stroke-width="0.5"/>
<text x="105.30" y="155.50" font-size="4.4" fill="#222" stroke="#222" stroke-width="0.14" text-anchor="start" >5 μL</text>
<line x1="98.60" y1="159.40" x2="107.20" y2="159.40" stroke="#b9d0f6" stroke-width="0.5" stroke-dasharray="0.7 0.6"/>
<circle cx="102.9" cy="159.4" r="1.25" fill="#b9d0f8" stroke="#6496ec" stroke-width="0.5"/>
<text x="109.70" y="161.00" font-size="4.4" fill="#222" stroke="#222" stroke-width="0.14" text-anchor="start" >1</text>
<line x1="98.60" y1="164.85" x2="107.20" y2="164.85" stroke="#f6c4c0" stroke-width="0.5" stroke-dasharray="0.7 0.6"/>
<polygon points="101.4,164.8 102.9,163.3 104.4,164.8 102.9,166.3" fill="#fde3e1" stroke="#f0645c" stroke-width="0.5"/>
<text x="109.70" y="166.45" font-size="4.4" fill="#222" stroke="#222" stroke-width="0.14" text-anchor="start" >2</text>
<line x1="98.60" y1="170.30" x2="107.20" y2="170.30" stroke="#fadc92" stroke-width="0.5" stroke-dasharray="0.7 0.6"/>
<polygon points="101.4,171.4 104.4,171.4 102.9,168.7" fill="#fbdc98" stroke="#f7bc38" stroke-width="0.5"/>
<text x="109.70" y="171.90" font-size="4.4" fill="#222" stroke="#222" stroke-width="0.14" text-anchor="start" >3</text>
<rect x="272.47" y="237.66" width="4.6" height="0.94" fill="#f44030" stroke="#c81e14" stroke-width="0.45"/>
<rect x="277.06" y="237.66" width="4.6" height="0.94" fill="#f44030" stroke="#c81e14" stroke-width="0.45"/>
<rect x="281.65" y="236.25" width="4.6" height="2.35" fill="#f44030" stroke="#c81e14" stroke-width="0.45"/>
<rect x="286.24" y="234.60" width="4.6" height="4.00" fill="#f44030" stroke="#c81e14" stroke-width="0.45"/>
<rect x="290.83" y="230.84" width="4.6" height="7.76" fill="#f44030" stroke="#c81e14" stroke-width="0.45"/>
<rect x="295.42" y="219.31" width="4.6" height="19.29" fill="#f44030" stroke="#c81e14" stroke-width="0.45"/>
<rect x="300.01" y="210.14" width="4.6" height="28.46" fill="#f44030" stroke="#c81e14" stroke-width="0.45"/>
<rect x="304.60" y="196.26" width="4.6" height="42.34" fill="#f44030" stroke="#c81e14" stroke-width="0.45"/>
<rect x="309.19" y="184.50" width="4.6" height="54.10" fill="#f44030" stroke="#c81e14" stroke-width="0.45"/>
<rect x="313.78" y="156.28" width="4.6" height="82.32" fill="#f44030" stroke="#c81e14" stroke-width="0.45"/>
<rect x="318.37" y="179.80" width="4.6" height="58.80" fill="#f44030" stroke="#c81e14" stroke-width="0.45"/>
<rect x="322.96" y="192.74" width="4.6" height="45.86" fill="#f44030" stroke="#c81e14" stroke-width="0.45"/>
<rect x="327.55" y="196.50" width="4.6" height="42.10" fill="#f44030" stroke="#c81e14" stroke-width="0.45"/>
<rect x="332.14" y="210.14" width="4.6" height="28.46" fill="#f44030" stroke="#c81e14" stroke-width="0.45"/>
<rect x="336.73" y="222.84" width="4.6" height="15.76" fill="#f44030" stroke="#c81e14" stroke-width="0.45"/>
<rect x="341.32" y="224.49" width="4.6" height="14.11" fill="#f44030" stroke="#c81e14" stroke-width="0.45"/>
<rect x="345.91" y="229.90" width="4.6" height="8.70" fill="#f44030" stroke="#c81e14" stroke-width="0.45"/>
<rect x="350.50" y="236.25" width="4.6" height="2.35" fill="#f44030" stroke="#c81e14" stroke-width="0.45"/>
<rect x="355.09" y="237.66" width="4.6" height="0.94" fill="#f44030" stroke="#c81e14" stroke-width="0.45"/>
<polyline fill="none" stroke="#5b9cf0" stroke-width="0.7" points="282.0,237.94 282.6,237.84 283.1,237.72 283.6,237.59 284.2,237.45 284.8,237.28 285.3,237.09 285.9,236.88 286.4,236.65 286.9,236.39 287.5,236.10 288.1,235.77 288.6,235.42 289.1,235.02 289.7,234.59 290.2,234.12 290.8,233.59 291.4,233.03 291.9,232.41 292.4,231.73 293.0,231.01 293.6,230.22 294.1,229.37 294.6,228.46 295.2,227.48 295.8,226.44 296.3,225.33 296.9,224.15 297.4,222.91 297.9,221.59 298.5,220.20 299.1,218.74 299.6,217.22 300.1,215.64 300.7,213.99 301.2,212.28 301.8,210.51 302.4,208.70 302.9,206.83 303.4,204.93 304.0,203.00 304.6,201.03 305.1,199.05 305.6,197.06 306.2,195.07 306.8,193.08 307.3,191.11 307.9,189.16 308.4,187.25 308.9,185.39 309.5,183.58 310.1,181.84 310.6,180.17 311.1,178.59 311.7,177.11 312.2,175.73 312.8,174.46 313.4,173.32 313.9,172.30 314.4,171.42 315.0,170.69 315.6,170.09 316.1,169.65 316.6,169.36 317.2,169.23 317.8,169.25 318.3,169.42 318.9,169.76 319.4,170.24 319.9,170.87 320.5,171.65 321.1,172.57 321.6,173.62 322.1,174.80 322.7,176.09 323.2,177.50 323.8,179.01 324.4,180.62 324.9,182.30 325.4,184.06 326.0,185.89 326.6,187.77 327.1,189.69 327.6,191.64 328.2,193.62 328.8,195.61 329.3,197.60 329.9,199.59 330.4,201.57 330.9,203.53 331.5,205.45 332.1,207.35 332.6,209.20 333.1,211.00 333.7,212.75 334.2,214.44 334.8,216.07 335.4,217.64 335.9,219.15 336.4,220.59 337.0,221.95 337.6,223.25 338.1,224.48 338.6,225.64 339.2,226.73 339.8,227.76 340.3,228.71 340.9,229.61 341.4,230.44 341.9,231.21 342.5,231.92 343.1,232.58 343.6,233.19 344.1,233.74 344.7,234.25 345.2,234.71 345.8,235.14 346.4,235.52 346.9,235.87 347.4,236.18 348.0,236.46 348.6,236.71 349.1,236.94 349.6,237.15 350.2,237.33 350.8,237.49 351.3,237.63 351.9,237.76 352.4,237.87 352.9,237.97 353.5,238.05 354.1,238.13 354.6,238.19 355.1,238.25 355.7,238.30 356.2,238.35 356.8,238.38 357.4,238.42 357.9,238.44 358.4,238.47 359.0,238.49"/>
<polyline fill="none" stroke="#55d09a" stroke-width="0.7" stroke-dasharray="1.8 1.6" points="280.0,238.54 280.6,238.53 281.1,238.52 281.6,238.51 282.2,238.49 282.8,238.48 283.3,238.45 283.9,238.43 284.4,238.40 284.9,238.37 285.5,238.34 286.1,238.30 286.6,238.25 287.1,238.20 287.7,238.14 288.2,238.07 288.8,238.00 289.4,237.91 289.9,237.82 290.4,237.71 291.0,237.59 291.6,237.46 292.1,237.31 292.6,237.15 293.2,236.97 293.8,236.77 294.3,236.55 294.9,236.31 295.4,236.04 295.9,235.76 296.5,235.44 297.1,235.10 297.6,234.72 298.1,234.32 298.7,233.88 299.2,233.41 299.8,232.90 300.4,232.35 300.9,231.76 301.4,231.13 302.0,230.46 302.6,229.75 303.1,228.99 303.6,228.19 304.2,227.34 304.8,226.44 305.3,225.49 305.9,224.50 306.4,223.46 306.9,222.37 307.5,221.23 308.1,220.05 308.6,218.82 309.1,217.54 309.7,216.22 310.2,214.86 310.8,213.46 311.4,212.02 311.9,210.55 312.4,209.04 313.0,207.50 313.6,205.93 314.1,204.34 314.6,202.72 315.2,201.09 315.8,199.44 316.3,197.79 316.9,196.12 317.4,194.45 317.9,192.78 318.5,191.11 319.1,189.46 319.6,187.81 320.1,186.18 320.7,184.56 321.2,182.97 321.8,181.40 322.4,179.86 322.9,178.35 323.4,176.88 324.0,175.44 324.6,174.04 325.1,172.68 325.6,171.36 326.2,170.08 326.8,168.85 327.3,167.67 327.9,166.53 328.4,165.44 328.9,164.40 329.5,163.41 330.1,162.46 330.6,161.56 331.1,160.71 331.7,159.91 332.2,159.15 332.8,158.44 333.4,157.77 333.9,157.14 334.4,156.55 335.0,156.00 335.6,155.49 336.1,155.02 336.6,154.58 337.2,154.18 337.8,153.80 338.3,153.46 338.9,153.14 339.4,152.86 339.9,152.59 340.5,152.35 341.1,152.13 341.6,151.93 342.1,151.75 342.7,151.59 343.2,151.44 343.8,151.31 344.4,151.19 344.9,151.08 345.4,150.99 346.0,150.90 346.6,150.83 347.1,150.76 347.6,150.70 348.2,150.65 348.8,150.60 349.3,150.56 349.9,150.53 350.4,150.50 350.9,150.47 351.5,150.45 352.1,150.42 352.6,150.41 353.1,150.39 353.7,150.38 354.2,150.37 354.8,150.36 355.4,150.35 355.9,150.34 356.4,150.33 357.0,150.33 357.6,150.32 358.1,150.32 358.6,150.32 359.2,150.31 359.8,150.31 360.3,150.31 360.9,150.31 361.4,150.31 361.9,150.31 362.5,150.30 363.1,150.30 363.6,150.30 364.1,150.30 364.7,150.30 365.2,150.30 365.8,150.30 366.4,150.30 366.9,150.30 367.4,150.30"/>
<circle cx="284.1" cy="238.2" r="1.15" fill="#1fa555"/>
<circle cx="288.7" cy="237.8" r="1.15" fill="#1fa555"/>
<circle cx="293.3" cy="236.8" r="1.15" fill="#1fa555"/>
<circle cx="297.75" cy="234.4" r="1.15" fill="#45c88e"/>
<circle cx="302.2" cy="229.6" r="1.15" fill="#45c88e"/>
<circle cx="306.7" cy="223.1" r="1.15" fill="#45c88e"/>
<circle cx="311.1" cy="213.9" r="1.15" fill="#45c88e"/>
<circle cx="316.1" cy="194.2" r="1.15" fill="#45c88e"/>
<circle cx="320.6" cy="182.4" r="1.15" fill="#45c88e"/>
<circle cx="325.4" cy="173.9" r="1.15" fill="#1fa555"/>
<circle cx="329.6" cy="164.2" r="1.15" fill="#1fa555"/>
<circle cx="334.4" cy="158.4" r="1.15" fill="#1fa555"/>
<circle cx="338.9" cy="155" r="1.15" fill="#1fa555"/>
<circle cx="343.6" cy="152.4" r="1.15" fill="#1fa555"/>
<circle cx="348.3" cy="150.9" r="1.15" fill="#1fa555"/>
<circle cx="353.2" cy="150.5" r="1.15" fill="#1fa555"/>
<circle cx="358.1" cy="150.4" r="1.15" fill="#1fa555"/>
<line x1="261.40" y1="150.00" x2="371.50" y2="150.00" stroke="#8c8c8c" stroke-width="0.9" />
<line x1="261.40" y1="238.60" x2="371.50" y2="238.60" stroke="#555" stroke-width="0.8" />
<line x1="261.40" y1="149.60" x2="261.40" y2="239.00" stroke="#f4483c" stroke-width="0.7" />
<line x1="371.50" y1="149.60" x2="371.50" y2="239.00" stroke="#4db87c" stroke-width="0.7" />
<line x1="261.40" y1="238.60" x2="263.00" y2="238.60" stroke="#f4483c" stroke-width="0.5" />
<text transform="translate(257.80 238.60) rotate(-90)" font-size="4.4" fill="#f4483c" stroke="#f4483c" stroke-width="0.05" text-anchor="middle" >0</text>
<line x1="261.40" y1="236.25" x2="262.30" y2="236.25" stroke="#f4483c" stroke-width="0.35" />
<line x1="261.40" y1="233.90" x2="262.30" y2="233.90" stroke="#f4483c" stroke-width="0.35" />
<line x1="261.40" y1="231.54" x2="262.30" y2="231.54" stroke="#f4483c" stroke-width="0.35" />
<line x1="261.40" y1="229.19" x2="262.30" y2="229.19" stroke="#f4483c" stroke-width="0.35" />
<line x1="261.40" y1="226.84" x2="263.00" y2="226.84" stroke="#f4483c" stroke-width="0.5" />
<text transform="translate(257.80 226.84) rotate(-90)" font-size="4.4" fill="#f4483c" stroke="#f4483c" stroke-width="0.05" text-anchor="middle" >5</text>
<line x1="261.40" y1="224.49" x2="262.30" y2="224.49" stroke="#f4483c" stroke-width="0.35" />
<line x1="261.40" y1="222.14" x2="262.30" y2="222.14" stroke="#f4483c" stroke-width="0.35" />
<line x1="261.40" y1="219.78" x2="262.30" y2="219.78" stroke="#f4483c" stroke-width="0.35" />
<line x1="261.40" y1="217.43" x2="262.30" y2="217.43" stroke="#f4483c" stroke-width="0.35" />
<line x1="261.40" y1="215.08" x2="263.00" y2="215.08" stroke="#f4483c" stroke-width="0.5" />
<text transform="translate(257.80 215.08) rotate(-90)" font-size="4.4" fill="#f4483c" stroke="#f4483c" stroke-width="0.05" text-anchor="middle" >10</text>
<line x1="261.40" y1="212.73" x2="262.30" y2="212.73" stroke="#f4483c" stroke-width="0.35" />
<line x1="261.40" y1="210.38" x2="262.30" y2="210.38" stroke="#f4483c" stroke-width="0.35" />
<line x1="261.40" y1="208.02" x2="262.30" y2="208.02" stroke="#f4483c" stroke-width="0.35" />
<line x1="261.40" y1="205.67" x2="262.30" y2="205.67" stroke="#f4483c" stroke-width="0.35" />
<line x1="261.40" y1="203.32" x2="263.00" y2="203.32" stroke="#f4483c" stroke-width="0.5" />
<text transform="translate(257.80 203.32) rotate(-90)" font-size="4.4" fill="#f4483c" stroke="#f4483c" stroke-width="0.05" text-anchor="middle" >15</text>
<line x1="261.40" y1="200.97" x2="262.30" y2="200.97" stroke="#f4483c" stroke-width="0.35" />
<line x1="261.40" y1="198.62" x2="262.30" y2="198.62" stroke="#f4483c" stroke-width="0.35" />
<line x1="261.40" y1="196.26" x2="262.30" y2="196.26" stroke="#f4483c" stroke-width="0.35" />
<line x1="261.40" y1="193.91" x2="262.30" y2="193.91" stroke="#f4483c" stroke-width="0.35" />
<line x1="261.40" y1="191.56" x2="263.00" y2="191.56" stroke="#f4483c" stroke-width="0.5" />
<text transform="translate(257.80 191.56) rotate(-90)" font-size="4.4" fill="#f4483c" stroke="#f4483c" stroke-width="0.05" text-anchor="middle" >20</text>
<line x1="261.40" y1="189.21" x2="262.30" y2="189.21" stroke="#f4483c" stroke-width="0.35" />
<line x1="261.40" y1="186.86" x2="262.30" y2="186.86" stroke="#f4483c" stroke-width="0.35" />
<line x1="261.40" y1="184.50" x2="262.30" y2="184.50" stroke="#f4483c" stroke-width="0.35" />
<line x1="261.40" y1="182.15" x2="262.30" y2="182.15" stroke="#f4483c" stroke-width="0.35" />
<line x1="261.40" y1="179.80" x2="263.00" y2="179.80" stroke="#f4483c" stroke-width="0.5" />
<text transform="translate(257.80 179.80) rotate(-90)" font-size="4.4" fill="#f4483c" stroke="#f4483c" stroke-width="0.05" text-anchor="middle" >25</text>
<line x1="261.40" y1="177.45" x2="262.30" y2="177.45" stroke="#f4483c" stroke-width="0.35" />
<line x1="261.40" y1="175.10" x2="262.30" y2="175.10" stroke="#f4483c" stroke-width="0.35" />
<line x1="261.40" y1="172.74" x2="262.30" y2="172.74" stroke="#f4483c" stroke-width="0.35" />
<line x1="261.40" y1="170.39" x2="262.30" y2="170.39" stroke="#f4483c" stroke-width="0.35" />
<line x1="261.40" y1="168.04" x2="263.00" y2="168.04" stroke="#f4483c" stroke-width="0.5" />
<text transform="translate(257.80 168.04) rotate(-90)" font-size="4.4" fill="#f4483c" stroke="#f4483c" stroke-width="0.05" text-anchor="middle" >30</text>
<line x1="261.40" y1="165.69" x2="262.30" y2="165.69" stroke="#f4483c" stroke-width="0.35" />
<line x1="261.40" y1="163.34" x2="262.30" y2="163.34" stroke="#f4483c" stroke-width="0.35" />
<line x1="261.40" y1="160.98" x2="262.30" y2="160.98" stroke="#f4483c" stroke-width="0.35" />
<line x1="261.40" y1="158.63" x2="262.30" y2="158.63" stroke="#f4483c" stroke-width="0.35" />
<line x1="261.40" y1="156.28" x2="263.00" y2="156.28" stroke="#f4483c" stroke-width="0.5" />
<text transform="translate(257.80 156.28) rotate(-90)" font-size="4.4" fill="#f4483c" stroke="#f4483c" stroke-width="0.05" text-anchor="middle" >35</text>
<line x1="261.40" y1="153.93" x2="262.30" y2="153.93" stroke="#f4483c" stroke-width="0.35" />
<line x1="261.40" y1="151.58" x2="262.30" y2="151.58" stroke="#f4483c" stroke-width="0.35" />
<text transform="translate(251.70 195.00) rotate(-90)" font-size="4.45" fill="#f4483c" stroke="#f4483c" stroke-width="0.05" text-anchor="middle" >Nucleation frequency (%)</text>
<line x1="371.50" y1="238.60" x2="369.90" y2="238.60" stroke="#4db87c" stroke-width="0.5" />
<text x="374.00" y="240.05" font-size="4.1" fill="#4db87c" stroke="#4db87c" stroke-width="0.05" text-anchor="start" >0</text>
<line x1="371.50" y1="234.20" x2="370.60" y2="234.20" stroke="#4db87c" stroke-width="0.35" />
<line x1="371.50" y1="229.77" x2="369.90" y2="229.77" stroke="#4db87c" stroke-width="0.5" />
<text x="374.00" y="231.22" font-size="4.1" fill="#4db87c" stroke="#4db87c" stroke-width="0.05" text-anchor="start" >10</text>
<line x1="371.50" y1="225.37" x2="370.60" y2="225.37" stroke="#4db87c" stroke-width="0.35" />
<line x1="371.50" y1="220.94" x2="369.90" y2="220.94" stroke="#4db87c" stroke-width="0.5" />
<text x="374.00" y="222.39" font-size="4.1" fill="#4db87c" stroke="#4db87c" stroke-width="0.05" text-anchor="start" >20</text>
<line x1="371.50" y1="216.54" x2="370.60" y2="216.54" stroke="#4db87c" stroke-width="0.35" />
<line x1="371.50" y1="212.11" x2="369.90" y2="212.11" stroke="#4db87c" stroke-width="0.5" />
<text x="374.00" y="213.56" font-size="4.1" fill="#4db87c" stroke="#4db87c" stroke-width="0.05" text-anchor="start" >30</text>
<line x1="371.50" y1="207.71" x2="370.60" y2="207.71" stroke="#4db87c" stroke-width="0.35" />
<line x1="371.50" y1="203.28" x2="369.90" y2="203.28" stroke="#4db87c" stroke-width="0.5" />
<text x="374.00" y="204.73" font-size="4.1" fill="#4db87c" stroke="#4db87c" stroke-width="0.05" text-anchor="start" >40</text>
<line x1="371.50" y1="198.88" x2="370.60" y2="198.88" stroke="#4db87c" stroke-width="0.35" />
<line x1="371.50" y1="194.45" x2="369.90" y2="194.45" stroke="#4db87c" stroke-width="0.5" />
<text x="374.00" y="195.90" font-size="4.1" fill="#4db87c" stroke="#4db87c" stroke-width="0.05" text-anchor="start" >50</text>
<line x1="371.50" y1="190.05" x2="370.60" y2="190.05" stroke="#4db87c" stroke-width="0.35" />
<line x1="371.50" y1="185.62" x2="369.90" y2="185.62" stroke="#4db87c" stroke-width="0.5" />
<text x="374.00" y="187.07" font-size="4.1" fill="#4db87c" stroke="#4db87c" stroke-width="0.05" text-anchor="start" >60</text>
<line x1="371.50" y1="181.22" x2="370.60" y2="181.22" stroke="#4db87c" stroke-width="0.35" />
<line x1="371.50" y1="176.79" x2="369.90" y2="176.79" stroke="#4db87c" stroke-width="0.5" />
<text x="374.00" y="178.24" font-size="4.1" fill="#4db87c" stroke="#4db87c" stroke-width="0.05" text-anchor="start" >70</text>
<line x1="371.50" y1="172.39" x2="370.60" y2="172.39" stroke="#4db87c" stroke-width="0.35" />
<line x1="371.50" y1="167.96" x2="369.90" y2="167.96" stroke="#4db87c" stroke-width="0.5" />
<text x="374.00" y="169.41" font-size="4.1" fill="#4db87c" stroke="#4db87c" stroke-width="0.05" text-anchor="start" >80</text>
<line x1="371.50" y1="163.56" x2="370.60" y2="163.56" stroke="#4db87c" stroke-width="0.35" />
<line x1="371.50" y1="159.13" x2="369.90" y2="159.13" stroke="#4db87c" stroke-width="0.5" />
<text x="374.00" y="160.58" font-size="4.1" fill="#4db87c" stroke="#4db87c" stroke-width="0.05" text-anchor="start" >90</text>
<line x1="371.50" y1="154.73" x2="370.60" y2="154.73" stroke="#4db87c" stroke-width="0.35" />
<line x1="371.50" y1="150.30" x2="369.90" y2="150.30" stroke="#4db87c" stroke-width="0.5" />
<text x="374.00" y="151.75" font-size="4.1" fill="#4db87c" stroke="#4db87c" stroke-width="0.05" text-anchor="start" >100</text>
<text transform="translate(385.60 193.60) rotate(-90)" font-size="4.55" fill="#4db87c" stroke="#4db87c" stroke-width="0.05" text-anchor="middle" >Nucleation fraction (%)</text>
<line x1="261.00" y1="238.60" x2="261.00" y2="237.00" stroke="#555" stroke-width="0.5" />
<text x="261.00" y="244.00" font-size="3.9" fill="#222" stroke="#222" stroke-width="0.14" text-anchor="middle" >-7</text>
<line x1="265.59" y1="238.60" x2="265.59" y2="237.70" stroke="#555" stroke-width="0.35" />
<line x1="270.18" y1="238.60" x2="270.18" y2="237.00" stroke="#555" stroke-width="0.5" />
<text x="270.18" y="244.00" font-size="3.9" fill="#222" stroke="#222" stroke-width="0.14" text-anchor="middle" >-8</text>
<line x1="274.77" y1="238.60" x2="274.77" y2="237.70" stroke="#555" stroke-width="0.35" />
<line x1="279.36" y1="238.60" x2="279.36" y2="237.00" stroke="#555" stroke-width="0.5" />
<text x="279.36" y="244.00" font-size="3.9" fill="#222" stroke="#222" stroke-width="0.14" text-anchor="middle" >-9</text>
<line x1="283.95" y1="238.60" x2="283.95" y2="237.70" stroke="#555" stroke-width="0.35" />
<line x1="288.54" y1="238.60" x2="288.54" y2="237.00" stroke="#555" stroke-width="0.5" />
<text x="288.54" y="244.00" font-size="3.9" fill="#222" stroke="#222" stroke-width="0.14" text-anchor="middle" >-10</text>
<line x1="293.13" y1="238.60" x2="293.13" y2="237.70" stroke="#555" stroke-width="0.35" />
<line x1="297.72" y1="238.60" x2="297.72" y2="237.00" stroke="#555" stroke-width="0.5" />
<text x="297.72" y="244.00" font-size="3.9" fill="#222" stroke="#222" stroke-width="0.14" text-anchor="middle" >-11</text>
<line x1="302.31" y1="238.60" x2="302.31" y2="237.70" stroke="#555" stroke-width="0.35" />
<line x1="306.90" y1="238.60" x2="306.90" y2="237.00" stroke="#555" stroke-width="0.5" />
<text x="306.90" y="244.00" font-size="3.9" fill="#222" stroke="#222" stroke-width="0.14" text-anchor="middle" >-12</text>
<line x1="311.49" y1="238.60" x2="311.49" y2="237.70" stroke="#555" stroke-width="0.35" />
<line x1="316.08" y1="238.60" x2="316.08" y2="237.00" stroke="#555" stroke-width="0.5" />
<text x="316.08" y="244.00" font-size="3.9" fill="#222" stroke="#222" stroke-width="0.14" text-anchor="middle" >-13</text>
<line x1="320.67" y1="238.60" x2="320.67" y2="237.70" stroke="#555" stroke-width="0.35" />
<line x1="325.26" y1="238.60" x2="325.26" y2="237.00" stroke="#555" stroke-width="0.5" />
<text x="325.26" y="244.00" font-size="3.9" fill="#222" stroke="#222" stroke-width="0.14" text-anchor="middle" >-14</text>
<line x1="329.85" y1="238.60" x2="329.85" y2="237.70" stroke="#555" stroke-width="0.35" />
<line x1="334.44" y1="238.60" x2="334.44" y2="237.00" stroke="#555" stroke-width="0.5" />
<text x="334.44" y="244.00" font-size="3.9" fill="#222" stroke="#222" stroke-width="0.14" text-anchor="middle" >-15</text>
<line x1="339.03" y1="238.60" x2="339.03" y2="237.70" stroke="#555" stroke-width="0.35" />
<line x1="343.62" y1="238.60" x2="343.62" y2="237.00" stroke="#555" stroke-width="0.5" />
<text x="343.62" y="244.00" font-size="3.9" fill="#222" stroke="#222" stroke-width="0.14" text-anchor="middle" >-16</text>
<line x1="348.21" y1="238.60" x2="348.21" y2="237.70" stroke="#555" stroke-width="0.35" />
<line x1="352.80" y1="238.60" x2="352.80" y2="237.00" stroke="#555" stroke-width="0.5" />
<text x="352.80" y="244.00" font-size="3.9" fill="#222" stroke="#222" stroke-width="0.14" text-anchor="middle" >-17</text>
<line x1="357.39" y1="238.60" x2="357.39" y2="237.70" stroke="#555" stroke-width="0.35" />
<line x1="361.98" y1="238.60" x2="361.98" y2="237.00" stroke="#555" stroke-width="0.5" />
<text x="361.98" y="244.00" font-size="3.9" fill="#222" stroke="#222" stroke-width="0.14" text-anchor="middle" >-18</text>
<line x1="366.57" y1="238.60" x2="366.57" y2="237.70" stroke="#555" stroke-width="0.35" />
<line x1="371.16" y1="238.60" x2="371.16" y2="237.00" stroke="#555" stroke-width="0.5" />
<text x="371.16" y="244.00" font-size="3.9" fill="#222" stroke="#222" stroke-width="0.14" text-anchor="middle" >-19</text>
<text x="317.20" y="249.00" font-size="4.3" fill="#222" stroke="#222" stroke-width="0.14" text-anchor="middle" ><tspan font-style="italic">T</tspan> (°C)</text>
<rect x="265.4" y="153.8" width="8.2" height="3.8" fill="#f44030" stroke="#d02418" stroke-width="0.35"/>
<text x="276.00" y="157.30" font-size="4.3" fill="#111" stroke="#111" stroke-width="0.14" text-anchor="start" >Frequency</text>
<line x1="265.40" y1="163.30" x2="273.60" y2="163.30" stroke="#5b9cf0" stroke-width="0.7" />
<text x="276.00" y="164.90" font-size="4.3" fill="#111" stroke="#111" stroke-width="0.14" text-anchor="start" >Normal fit PDF</text>
<circle cx="269.4" cy="170.2" r="1.15" fill="#1fa555"/>
<text x="276.00" y="171.70" font-size="4.3" fill="#111" stroke="#111" stroke-width="0.14" text-anchor="start" >Nucleation fraction</text>
<line x1="265.40" y1="177.10" x2="273.60" y2="177.10" stroke="#55d09a" stroke-width="0.7" stroke-dasharray="2 3"/>
<text x="276.00" y="178.60" font-size="4.3" fill="#111" stroke="#111" stroke-width="0.14" text-anchor="start" >Normal fit CDF</text>
</svg>
</body></html>
